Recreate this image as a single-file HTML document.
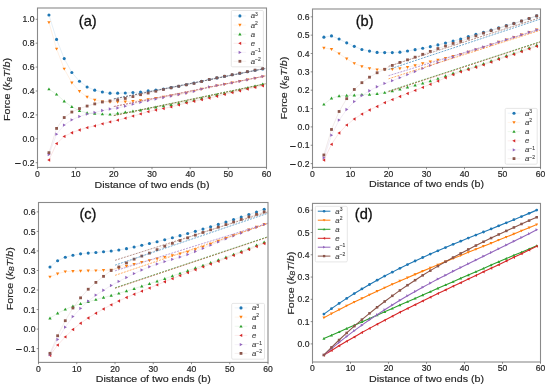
<!DOCTYPE html>
<html><head><meta charset="utf-8"><title>Force vs distance</title><style>html,body{margin:0;padding:0;background:#fff;width:550px;height:387px;overflow:hidden}svg{display:block;will-change:transform}</style></head><body>
<svg width="550" height="387" viewBox="0 0 550 387">
<style>text{font-family:"Liberation Sans", sans-serif;fill:#262626}.tk{font-size:8.6px;stroke:#262626;stroke-width:0.18px}.xl{font-size:9.5px;stroke:#262626;stroke-width:0.15px}.ttl{font-size:14.6px;fill:#111;stroke:#111;stroke-width:0.3px}.lg{font-size:7.8px;fill:#444;stroke:#444;stroke-width:0.12px}</style>
<rect width="550" height="387" fill="#ffffff"/>
<clipPath id="clipa"><rect x="37.5" y="8.0" width="229.0" height="159.4"/></clipPath>
<g clip-path="url(#clipa)">
<polyline points="48.95,15.00 56.58,39.38 64.22,58.62 71.85,72.48 79.48,81.32 87.12,86.94 94.75,90.16 102.38,91.96 110.02,93.15 117.65,93.15 125.28,93.03 132.92,92.55 140.55,91.96 148.18,90.88 155.82,90.04 163.45,88.93 171.08,87.65 178.72,86.29 186.35,84.79 193.98,83.10 201.62,81.28 209.25,79.53 216.88,77.89 224.52,76.30 232.15,74.75 239.78,73.23 247.42,71.75 255.05,70.30 262.68,68.89" fill="none" stroke="#1f77b4" stroke-width="0.45" stroke-opacity="0.27"/>
<polyline points="48.95,22.41 56.58,48.94 64.22,68.89 71.85,82.75 79.48,91.36 87.12,96.98 94.75,99.96 102.38,101.64 110.02,101.99 117.65,101.99 125.28,101.76 132.92,101.16 140.55,100.44 148.18,99.39 155.82,98.17 163.45,96.99 171.08,95.78 178.72,94.49 186.35,93.03 193.98,91.19 201.62,89.08 209.25,87.18 216.88,85.66 224.52,84.28 232.15,82.87 239.78,81.37 247.42,79.83 255.05,78.26 262.68,76.66" fill="none" stroke="#ff7f0e" stroke-width="0.45" stroke-opacity="0.27"/>
<polyline points="48.95,89.09 56.58,94.35 64.22,101.16 71.85,106.77 79.48,110.72 87.12,112.99 94.75,113.59 102.38,114.06 110.02,114.30 117.65,113.23 125.28,112.24 132.92,111.26 140.55,110.12 148.18,108.57 155.82,107.26 163.45,106.05 171.08,104.74 178.72,103.25 186.35,101.64 193.98,99.96 201.62,98.17 209.25,96.38 216.88,94.77 224.52,93.22 232.15,91.60 239.78,89.84 247.42,88.00 255.05,86.07 262.68,84.07" fill="none" stroke="#2ca02c" stroke-width="0.45" stroke-opacity="0.27"/>
<polyline points="48.95,159.95 56.58,143.58 64.22,136.41 71.85,132.71 79.48,129.96 87.12,127.69 94.75,125.89 102.38,123.86 110.02,121.95 117.65,120.16 125.28,118.19 132.92,116.10 140.55,113.94 148.18,111.67 155.82,109.97 163.45,108.49 171.08,106.89 178.72,104.93 186.35,102.95 193.98,101.28 201.62,99.68 209.25,98.05 216.88,96.26 224.52,94.38 232.15,92.55 239.78,90.80 247.42,89.08 255.05,87.39 262.68,85.74" fill="none" stroke="#d62728" stroke-width="0.45" stroke-opacity="0.27"/>
<polyline points="48.95,154.45 56.58,134.14 64.22,125.06 71.85,119.80 79.48,116.45 87.12,114.06 94.75,112.51 102.38,110.48 110.02,109.04 117.65,107.97 125.28,106.18 132.92,104.15 140.55,102.35 148.18,100.66 155.82,99.03 163.45,97.45 171.08,95.97 178.72,94.54 186.35,93.03 193.98,91.36 201.62,89.11 209.25,86.94 216.88,85.45 224.52,84.20 232.15,82.87 239.78,81.37 247.42,79.79 255.05,78.15 262.68,76.42" fill="none" stroke="#9467bd" stroke-width="0.45" stroke-opacity="0.27"/>
<polyline points="48.95,152.66 56.58,128.40 64.22,117.53 71.85,112.03 79.48,108.57 87.12,106.06 94.75,103.91 102.38,101.99 110.02,100.92 117.65,99.96 125.28,98.45 132.92,96.56 140.55,94.70 148.18,93.03 155.82,91.23 163.45,89.45 171.08,87.79 178.72,86.22 186.35,84.79 193.98,83.35 201.62,81.47 209.25,79.53 216.88,77.86 224.52,76.29 232.15,74.75 239.78,73.20 247.42,71.66 255.05,70.15 262.68,68.65" fill="none" stroke="#8c564b" stroke-width="0.45" stroke-opacity="0.27"/>
<circle cx="48.95" cy="15.00" r="1.55" fill="#1f77b4"/>
<circle cx="56.58" cy="39.38" r="1.55" fill="#1f77b4"/>
<circle cx="64.22" cy="58.62" r="1.55" fill="#1f77b4"/>
<circle cx="71.85" cy="72.48" r="1.55" fill="#1f77b4"/>
<circle cx="79.48" cy="81.32" r="1.55" fill="#1f77b4"/>
<circle cx="87.12" cy="86.94" r="1.55" fill="#1f77b4"/>
<circle cx="94.75" cy="90.16" r="1.55" fill="#1f77b4"/>
<circle cx="102.38" cy="91.96" r="1.55" fill="#1f77b4"/>
<circle cx="110.02" cy="93.15" r="1.55" fill="#1f77b4"/>
<circle cx="117.65" cy="93.15" r="1.55" fill="#1f77b4"/>
<circle cx="125.28" cy="93.03" r="1.55" fill="#1f77b4"/>
<circle cx="132.92" cy="92.55" r="1.55" fill="#1f77b4"/>
<circle cx="140.55" cy="91.96" r="1.55" fill="#1f77b4"/>
<circle cx="148.18" cy="90.88" r="1.55" fill="#1f77b4"/>
<circle cx="155.82" cy="90.04" r="1.55" fill="#1f77b4"/>
<circle cx="163.45" cy="88.93" r="1.55" fill="#1f77b4"/>
<circle cx="171.08" cy="87.65" r="1.55" fill="#1f77b4"/>
<circle cx="178.72" cy="86.29" r="1.55" fill="#1f77b4"/>
<circle cx="186.35" cy="84.79" r="1.55" fill="#1f77b4"/>
<circle cx="193.98" cy="83.10" r="1.55" fill="#1f77b4"/>
<circle cx="201.62" cy="81.28" r="1.55" fill="#1f77b4"/>
<circle cx="209.25" cy="79.53" r="1.55" fill="#1f77b4"/>
<circle cx="216.88" cy="77.89" r="1.55" fill="#1f77b4"/>
<circle cx="224.52" cy="76.30" r="1.55" fill="#1f77b4"/>
<circle cx="232.15" cy="74.75" r="1.55" fill="#1f77b4"/>
<circle cx="239.78" cy="73.23" r="1.55" fill="#1f77b4"/>
<circle cx="247.42" cy="71.75" r="1.55" fill="#1f77b4"/>
<circle cx="255.05" cy="70.30" r="1.55" fill="#1f77b4"/>
<circle cx="262.68" cy="68.89" r="1.55" fill="#1f77b4"/>
<polygon points="47.28,21.15 50.62,21.15 48.95,24.08" fill="#ff7f0e"/>
<polygon points="54.91,47.68 58.26,47.68 56.58,50.61" fill="#ff7f0e"/>
<polygon points="62.54,67.64 65.89,67.64 64.22,70.57" fill="#ff7f0e"/>
<polygon points="70.18,81.50 73.52,81.50 71.85,84.43" fill="#ff7f0e"/>
<polygon points="77.81,90.10 81.16,90.10 79.48,93.03" fill="#ff7f0e"/>
<polygon points="85.44,95.72 88.79,95.72 87.12,98.65" fill="#ff7f0e"/>
<polygon points="93.08,98.71 96.42,98.71 94.75,101.64" fill="#ff7f0e"/>
<polygon points="100.71,100.38 104.06,100.38 102.38,103.31" fill="#ff7f0e"/>
<polygon points="108.34,100.74 111.69,100.74 110.02,103.67" fill="#ff7f0e"/>
<polygon points="115.98,100.74 119.32,100.74 117.65,103.67" fill="#ff7f0e"/>
<polygon points="123.61,100.50 126.96,100.50 125.28,103.43" fill="#ff7f0e"/>
<polygon points="131.24,99.90 134.59,99.90 132.92,102.83" fill="#ff7f0e"/>
<polygon points="138.88,99.19 142.22,99.19 140.55,102.11" fill="#ff7f0e"/>
<polygon points="146.51,98.13 149.86,98.13 148.18,101.06" fill="#ff7f0e"/>
<polygon points="154.14,96.91 157.49,96.91 155.82,99.84" fill="#ff7f0e"/>
<polygon points="161.78,95.73 165.12,95.73 163.45,98.66" fill="#ff7f0e"/>
<polygon points="169.41,94.53 172.76,94.53 171.08,97.46" fill="#ff7f0e"/>
<polygon points="177.04,93.23 180.39,93.23 178.72,96.16" fill="#ff7f0e"/>
<polygon points="184.68,91.78 188.02,91.78 186.35,94.71" fill="#ff7f0e"/>
<polygon points="192.31,89.93 195.66,89.93 193.98,92.86" fill="#ff7f0e"/>
<polygon points="199.94,87.83 203.29,87.83 201.62,90.76" fill="#ff7f0e"/>
<polygon points="207.58,85.92 210.92,85.92 209.25,88.85" fill="#ff7f0e"/>
<polygon points="215.21,84.40 218.56,84.40 216.88,87.33" fill="#ff7f0e"/>
<polygon points="222.84,83.03 226.19,83.03 224.52,85.96" fill="#ff7f0e"/>
<polygon points="230.48,81.62 233.82,81.62 232.15,84.55" fill="#ff7f0e"/>
<polygon points="238.11,80.11 241.46,80.11 239.78,83.04" fill="#ff7f0e"/>
<polygon points="245.74,78.58 249.09,78.58 247.42,81.51" fill="#ff7f0e"/>
<polygon points="253.38,77.01 256.72,77.01 255.05,79.94" fill="#ff7f0e"/>
<polygon points="261.01,75.40 264.36,75.40 262.68,78.33" fill="#ff7f0e"/>
<polygon points="47.28,90.34 50.62,90.34 48.95,87.41" fill="#2ca02c"/>
<polygon points="54.91,95.60 58.26,95.60 56.58,92.67" fill="#2ca02c"/>
<polygon points="62.54,102.41 65.89,102.41 64.22,99.48" fill="#2ca02c"/>
<polygon points="70.18,108.03 73.52,108.03 71.85,105.10" fill="#2ca02c"/>
<polygon points="77.81,111.97 81.16,111.97 79.48,109.04" fill="#2ca02c"/>
<polygon points="85.44,114.24 88.79,114.24 87.12,111.31" fill="#2ca02c"/>
<polygon points="93.08,114.84 96.42,114.84 94.75,111.91" fill="#2ca02c"/>
<polygon points="100.71,115.32 104.06,115.32 102.38,112.39" fill="#2ca02c"/>
<polygon points="108.34,115.56 111.69,115.56 110.02,112.63" fill="#2ca02c"/>
<polygon points="115.98,114.48 119.32,114.48 117.65,111.55" fill="#2ca02c"/>
<polygon points="123.61,113.49 126.96,113.49 125.28,110.56" fill="#2ca02c"/>
<polygon points="131.24,112.52 134.59,112.52 132.92,109.59" fill="#2ca02c"/>
<polygon points="138.88,111.38 142.22,111.38 140.55,108.45" fill="#2ca02c"/>
<polygon points="146.51,109.82 149.86,109.82 148.18,106.89" fill="#2ca02c"/>
<polygon points="154.14,108.51 157.49,108.51 155.82,105.58" fill="#2ca02c"/>
<polygon points="161.78,107.30 165.12,107.30 163.45,104.37" fill="#2ca02c"/>
<polygon points="169.41,106.00 172.76,106.00 171.08,103.07" fill="#2ca02c"/>
<polygon points="177.04,104.51 180.39,104.51 178.72,101.58" fill="#2ca02c"/>
<polygon points="184.68,102.90 188.02,102.90 186.35,99.97" fill="#2ca02c"/>
<polygon points="192.31,101.22 195.66,101.22 193.98,98.29" fill="#2ca02c"/>
<polygon points="199.94,99.43 203.29,99.43 201.62,96.50" fill="#2ca02c"/>
<polygon points="207.58,97.63 210.92,97.63 209.25,94.70" fill="#2ca02c"/>
<polygon points="215.21,96.02 218.56,96.02 216.88,93.09" fill="#2ca02c"/>
<polygon points="222.84,94.48 226.19,94.48 224.52,91.55" fill="#2ca02c"/>
<polygon points="230.48,92.85 233.82,92.85 232.15,89.92" fill="#2ca02c"/>
<polygon points="238.11,91.09 241.46,91.09 239.78,88.16" fill="#2ca02c"/>
<polygon points="245.74,89.25 249.09,89.25 247.42,86.32" fill="#2ca02c"/>
<polygon points="253.38,87.33 256.72,87.33 255.05,84.40" fill="#2ca02c"/>
<polygon points="261.01,85.32 264.36,85.32 262.68,82.40" fill="#2ca02c"/>
<polygon points="50.21,158.28 50.21,161.63 47.28,159.95" fill="#d62728"/>
<polygon points="57.84,141.91 57.84,145.25 54.91,143.58" fill="#d62728"/>
<polygon points="65.47,134.74 65.47,138.08 62.54,136.41" fill="#d62728"/>
<polygon points="73.11,131.03 73.11,134.38 70.18,132.71" fill="#d62728"/>
<polygon points="80.74,128.28 80.74,131.63 77.81,129.96" fill="#d62728"/>
<polygon points="88.37,126.01 88.37,129.36 85.44,127.69" fill="#d62728"/>
<polygon points="96.01,124.22 96.01,127.57 93.08,125.89" fill="#d62728"/>
<polygon points="103.64,122.19 103.64,125.54 100.71,123.86" fill="#d62728"/>
<polygon points="111.27,120.28 111.27,123.62 108.34,121.95" fill="#d62728"/>
<polygon points="118.91,118.48 118.91,121.83 115.98,120.16" fill="#d62728"/>
<polygon points="126.54,116.51 126.54,119.86 123.61,118.19" fill="#d62728"/>
<polygon points="134.17,114.43 134.17,117.78 131.24,116.10" fill="#d62728"/>
<polygon points="141.81,112.27 141.81,115.62 138.88,113.94" fill="#d62728"/>
<polygon points="149.44,110.00 149.44,113.35 146.51,111.67" fill="#d62728"/>
<polygon points="157.07,108.30 157.07,111.65 154.14,109.97" fill="#d62728"/>
<polygon points="164.71,106.82 164.71,110.17 161.78,108.49" fill="#d62728"/>
<polygon points="172.34,105.22 172.34,108.57 169.41,106.89" fill="#d62728"/>
<polygon points="179.97,103.25 179.97,106.60 177.04,104.93" fill="#d62728"/>
<polygon points="187.61,101.28 187.61,104.62 184.68,102.95" fill="#d62728"/>
<polygon points="195.24,99.60 195.24,102.95 192.31,101.28" fill="#d62728"/>
<polygon points="202.87,98.01 202.87,101.35 199.94,99.68" fill="#d62728"/>
<polygon points="210.51,96.38 210.51,99.72 207.58,98.05" fill="#d62728"/>
<polygon points="218.14,94.58 218.14,97.93 215.21,96.26" fill="#d62728"/>
<polygon points="225.77,92.71 225.77,96.06 222.84,94.38" fill="#d62728"/>
<polygon points="233.41,90.88 233.41,94.23 230.48,92.55" fill="#d62728"/>
<polygon points="241.04,89.13 241.04,92.47 238.11,90.80" fill="#d62728"/>
<polygon points="248.67,87.40 248.67,90.75 245.74,89.08" fill="#d62728"/>
<polygon points="256.31,85.72 256.31,89.06 253.38,87.39" fill="#d62728"/>
<polygon points="263.94,84.07 263.94,87.42 261.01,85.74" fill="#d62728"/>
<polygon points="47.69,152.78 47.69,156.13 50.62,154.45" fill="#9467bd"/>
<polygon points="55.33,132.47 55.33,135.81 58.26,134.14" fill="#9467bd"/>
<polygon points="62.96,123.38 62.96,126.73 65.89,125.06" fill="#9467bd"/>
<polygon points="70.59,118.13 70.59,121.47 73.52,119.80" fill="#9467bd"/>
<polygon points="78.23,114.78 78.23,118.13 81.16,116.45" fill="#9467bd"/>
<polygon points="85.86,112.39 85.86,115.74 88.79,114.06" fill="#9467bd"/>
<polygon points="93.49,110.84 93.49,114.18 96.42,112.51" fill="#9467bd"/>
<polygon points="101.13,108.80 101.13,112.15 104.06,110.48" fill="#9467bd"/>
<polygon points="108.76,107.37 108.76,110.72 111.69,109.04" fill="#9467bd"/>
<polygon points="116.39,106.30 116.39,109.64 119.32,107.97" fill="#9467bd"/>
<polygon points="124.03,104.51 124.03,107.86 126.96,106.18" fill="#9467bd"/>
<polygon points="131.66,102.47 131.66,105.82 134.59,104.15" fill="#9467bd"/>
<polygon points="139.29,100.68 139.29,104.03 142.22,102.35" fill="#9467bd"/>
<polygon points="146.93,98.99 146.93,102.34 149.86,100.66" fill="#9467bd"/>
<polygon points="154.56,97.36 154.56,100.70 157.49,99.03" fill="#9467bd"/>
<polygon points="162.19,95.78 162.19,99.13 165.12,97.45" fill="#9467bd"/>
<polygon points="169.83,94.30 169.83,97.64 172.76,95.97" fill="#9467bd"/>
<polygon points="177.46,92.86 177.46,96.21 180.39,94.54" fill="#9467bd"/>
<polygon points="185.09,91.36 185.09,94.71 188.02,93.03" fill="#9467bd"/>
<polygon points="192.73,89.68 192.73,93.03 195.66,91.36" fill="#9467bd"/>
<polygon points="200.36,87.43 200.36,90.78 203.29,89.11" fill="#9467bd"/>
<polygon points="207.99,85.26 207.99,88.61 210.92,86.94" fill="#9467bd"/>
<polygon points="215.63,83.78 215.63,87.12 218.56,85.45" fill="#9467bd"/>
<polygon points="223.26,82.53 223.26,85.87 226.19,84.20" fill="#9467bd"/>
<polygon points="230.89,81.20 230.89,84.55 233.82,82.87" fill="#9467bd"/>
<polygon points="238.53,79.70 238.53,83.05 241.46,81.37" fill="#9467bd"/>
<polygon points="246.16,78.12 246.16,81.47 249.09,79.79" fill="#9467bd"/>
<polygon points="253.79,76.47 253.79,79.82 256.72,78.15" fill="#9467bd"/>
<polygon points="261.43,74.75 261.43,78.10 264.36,76.42" fill="#9467bd"/>
<rect x="47.55" y="151.27" width="2.79" height="2.79" fill="#8c564b"/>
<rect x="55.19" y="127.01" width="2.79" height="2.79" fill="#8c564b"/>
<rect x="62.82" y="116.13" width="2.79" height="2.79" fill="#8c564b"/>
<rect x="70.45" y="110.64" width="2.79" height="2.79" fill="#8c564b"/>
<rect x="78.09" y="107.17" width="2.79" height="2.79" fill="#8c564b"/>
<rect x="85.72" y="104.66" width="2.79" height="2.79" fill="#8c564b"/>
<rect x="93.36" y="102.51" width="2.79" height="2.79" fill="#8c564b"/>
<rect x="100.99" y="100.60" width="2.79" height="2.79" fill="#8c564b"/>
<rect x="108.62" y="99.52" width="2.79" height="2.79" fill="#8c564b"/>
<rect x="116.26" y="98.57" width="2.79" height="2.79" fill="#8c564b"/>
<rect x="123.89" y="97.06" width="2.79" height="2.79" fill="#8c564b"/>
<rect x="131.52" y="95.17" width="2.79" height="2.79" fill="#8c564b"/>
<rect x="139.16" y="93.31" width="2.79" height="2.79" fill="#8c564b"/>
<rect x="146.79" y="91.64" width="2.79" height="2.79" fill="#8c564b"/>
<rect x="154.42" y="89.84" width="2.79" height="2.79" fill="#8c564b"/>
<rect x="162.05" y="88.05" width="2.79" height="2.79" fill="#8c564b"/>
<rect x="169.69" y="86.39" width="2.79" height="2.79" fill="#8c564b"/>
<rect x="177.32" y="84.83" width="2.79" height="2.79" fill="#8c564b"/>
<rect x="184.95" y="83.39" width="2.79" height="2.79" fill="#8c564b"/>
<rect x="192.59" y="81.96" width="2.79" height="2.79" fill="#8c564b"/>
<rect x="200.22" y="80.08" width="2.79" height="2.79" fill="#8c564b"/>
<rect x="207.85" y="78.13" width="2.79" height="2.79" fill="#8c564b"/>
<rect x="215.49" y="76.46" width="2.79" height="2.79" fill="#8c564b"/>
<rect x="223.12" y="74.90" width="2.79" height="2.79" fill="#8c564b"/>
<rect x="230.75" y="73.35" width="2.79" height="2.79" fill="#8c564b"/>
<rect x="238.39" y="71.80" width="2.79" height="2.79" fill="#8c564b"/>
<rect x="246.02" y="70.27" width="2.79" height="2.79" fill="#8c564b"/>
<rect x="253.66" y="68.75" width="2.79" height="2.79" fill="#8c564b"/>
<rect x="261.29" y="67.26" width="2.79" height="2.79" fill="#8c564b"/>
<line x1="113.83" y1="98.77" x2="266.50" y2="68.30" stroke="#1f77b4" stroke-width="0.7" stroke-dasharray="2,1.1" stroke-opacity="0.9"/>
<line x1="113.83" y1="99.01" x2="266.50" y2="68.18" stroke="#8c564b" stroke-width="0.7" stroke-dasharray="2,1.1" stroke-opacity="0.9"/>
<line x1="113.83" y1="106.54" x2="266.50" y2="75.70" stroke="#ff7f0e" stroke-width="0.7" stroke-dasharray="2,1.1" stroke-opacity="0.9"/>
<line x1="113.83" y1="106.54" x2="266.50" y2="75.70" stroke="#9467bd" stroke-width="0.7" stroke-dasharray="2,1.1" stroke-opacity="0.9"/>
<line x1="113.83" y1="115.62" x2="266.50" y2="83.71" stroke="#d62728" stroke-width="0.7" stroke-dasharray="2,1.1" stroke-opacity="0.9"/>
<line x1="113.83" y1="115.38" x2="266.50" y2="83.47" stroke="#2ca02c" stroke-width="0.7" stroke-dasharray="2,1.1" stroke-opacity="0.9"/>
</g>
<rect x="37.5" y="8.0" width="229.0" height="159.4" fill="none" stroke="#8a8a8a" stroke-width="1.1"/>
<line x1="37.50" y1="167.4" x2="37.50" y2="169.20" stroke="#606060" stroke-width="0.7"/>
<text x="37.50" y="176.60" text-anchor="middle" class="tk">0</text>
<line x1="75.67" y1="167.4" x2="75.67" y2="169.20" stroke="#606060" stroke-width="0.7"/>
<text x="75.67" y="176.60" text-anchor="middle" class="tk">10</text>
<line x1="113.83" y1="167.4" x2="113.83" y2="169.20" stroke="#606060" stroke-width="0.7"/>
<text x="113.83" y="176.60" text-anchor="middle" class="tk">20</text>
<line x1="152.00" y1="167.4" x2="152.00" y2="169.20" stroke="#606060" stroke-width="0.7"/>
<text x="152.00" y="176.60" text-anchor="middle" class="tk">30</text>
<line x1="190.17" y1="167.4" x2="190.17" y2="169.20" stroke="#606060" stroke-width="0.7"/>
<text x="190.17" y="176.60" text-anchor="middle" class="tk">40</text>
<line x1="228.33" y1="167.4" x2="228.33" y2="169.20" stroke="#606060" stroke-width="0.7"/>
<text x="228.33" y="176.60" text-anchor="middle" class="tk">50</text>
<line x1="266.50" y1="167.4" x2="266.50" y2="169.20" stroke="#606060" stroke-width="0.7"/>
<text x="266.50" y="176.60" text-anchor="middle" class="tk">60</text>
<line x1="35.70" y1="162.70" x2="37.5" y2="162.70" stroke="#606060" stroke-width="0.7"/>
<rect x="15.10" y="163.00" width="5.6" height="1" fill="#262626"/>
<text x="34.50" y="165.80" text-anchor="end" class="tk">0.2</text>
<line x1="35.70" y1="138.80" x2="37.5" y2="138.80" stroke="#606060" stroke-width="0.7"/>
<text x="34.50" y="141.90" text-anchor="end" class="tk">0.0</text>
<line x1="35.70" y1="114.90" x2="37.5" y2="114.90" stroke="#606060" stroke-width="0.7"/>
<text x="34.50" y="118.00" text-anchor="end" class="tk">0.2</text>
<line x1="35.70" y1="91.00" x2="37.5" y2="91.00" stroke="#606060" stroke-width="0.7"/>
<text x="34.50" y="94.10" text-anchor="end" class="tk">0.4</text>
<line x1="35.70" y1="67.10" x2="37.5" y2="67.10" stroke="#606060" stroke-width="0.7"/>
<text x="34.50" y="70.20" text-anchor="end" class="tk">0.6</text>
<line x1="35.70" y1="43.20" x2="37.5" y2="43.20" stroke="#606060" stroke-width="0.7"/>
<text x="34.50" y="46.30" text-anchor="end" class="tk">0.8</text>
<line x1="35.70" y1="19.30" x2="37.5" y2="19.30" stroke="#606060" stroke-width="0.7"/>
<text x="34.50" y="22.40" text-anchor="end" class="tk">1.0</text>
<text x="152" y="187.5" text-anchor="middle" class="xl" textLength="115" lengthAdjust="spacingAndGlyphs">Distance of two ends (b)</text>
<text transform="translate(10.1,89.5) rotate(-90)" text-anchor="middle" class="xl" textLength="63" lengthAdjust="spacingAndGlyphs">Force (<tspan font-style="italic">k</tspan><tspan font-style="italic" font-size="6.3" dy="1.8">B</tspan><tspan dy="-1.8" font-style="italic">T</tspan>/<tspan font-style="italic">b</tspan>)</text>
<text x="78.8" y="25.5" class="ttl">(a)</text>
<rect x="231.3" y="10.5" width="32.1" height="56.3" rx="1.2" fill="#ffffff" fill-opacity="0.85" stroke="#e0e0e0" stroke-width="0.8"/>
<line x1="233.60" y1="15.9" x2="246.20" y2="15.9" stroke="#1f77b4" stroke-width="0.45" stroke-opacity="0.2"/>
<circle cx="239.90" cy="15.90" r="1.55" fill="#1f77b4"/>
<text x="250.70" y="18.30" class="lg"><tspan font-style="italic">a</tspan><tspan font-size="5.0" dy="-2.4">3</tspan></text>
<line x1="233.60" y1="25.1" x2="246.20" y2="25.1" stroke="#ff7f0e" stroke-width="0.45" stroke-opacity="0.2"/>
<polygon points="238.23,23.84 241.57,23.84 239.90,26.77" fill="#ff7f0e"/>
<text x="250.70" y="27.50" class="lg"><tspan font-style="italic">a</tspan><tspan font-size="5.0" dy="-2.4">2</tspan></text>
<line x1="233.60" y1="34.2" x2="246.20" y2="34.2" stroke="#2ca02c" stroke-width="0.45" stroke-opacity="0.2"/>
<polygon points="238.23,35.46 241.57,35.46 239.90,32.53" fill="#2ca02c"/>
<text x="250.70" y="36.60" class="lg"><tspan font-style="italic">a</tspan></text>
<line x1="233.60" y1="43.3" x2="246.20" y2="43.3" stroke="#d62728" stroke-width="0.45" stroke-opacity="0.2"/>
<polygon points="241.16,41.63 241.16,44.97 238.23,43.30" fill="#d62728"/>
<text x="250.70" y="45.70" class="lg"><tspan font-style="italic">e</tspan></text>
<line x1="233.60" y1="52.4" x2="246.20" y2="52.4" stroke="#9467bd" stroke-width="0.45" stroke-opacity="0.2"/>
<polygon points="238.64,50.73 238.64,54.07 241.57,52.40" fill="#9467bd"/>
<text x="250.70" y="54.80" class="lg"><tspan font-style="italic">a</tspan><tspan font-size="5.0" dy="-2.4">−1</tspan></text>
<line x1="233.60" y1="61.3" x2="246.20" y2="61.3" stroke="#8c564b" stroke-width="0.45" stroke-opacity="0.2"/>
<rect x="238.50" y="59.90" width="2.79" height="2.79" fill="#8c564b"/>
<text x="250.70" y="63.70" class="lg"><tspan font-style="italic">a</tspan><tspan font-size="5.0" dy="-2.4">−2</tspan></text>
<clipPath id="clipb"><rect x="312.5" y="9.0" width="228.0" height="158.4"/></clipPath>
<g clip-path="url(#clipb)">
<polyline points="323.90,37.17 331.50,35.88 339.10,39.00 346.70,42.86 354.30,46.34 361.90,49.46 369.50,51.11 377.10,52.40 384.70,52.58 392.30,52.58 399.90,52.15 407.50,51.06 415.10,49.63 422.70,48.18 430.30,46.66 437.90,44.91 445.50,43.04 453.10,41.02 460.70,39.00 468.30,36.62 475.90,34.42 483.50,32.40 491.10,30.13 498.70,27.81 506.30,25.63 513.90,23.41 521.50,20.98 529.10,18.45 536.70,15.88" fill="none" stroke="#1f77b4" stroke-width="0.45" stroke-opacity="0.27"/>
<polyline points="323.90,48.00 331.50,49.28 339.10,53.68 346.70,58.82 354.30,63.41 361.90,66.53 369.50,68.55 377.10,69.65 384.70,69.46 392.30,69.28 399.90,68.59 407.50,67.25 415.10,65.49 422.70,63.58 430.30,61.76 437.90,60.01 445.50,58.16 453.10,56.22 460.70,54.17 468.30,52.03 475.90,49.72 483.50,47.22 491.10,44.65 498.70,42.12 506.30,39.66 513.90,37.19 521.50,34.73 529.10,32.28 536.70,29.83" fill="none" stroke="#ff7f0e" stroke-width="0.45" stroke-opacity="0.27"/>
<polyline points="323.90,104.33 331.50,98.27 339.10,95.89 346.70,95.52 354.30,95.15 361.90,94.79 369.50,94.42 377.10,93.69 384.70,92.59 392.30,90.93 399.90,89.13 407.50,87.25 415.10,85.28 422.70,83.21 430.30,81.03 437.90,78.59 445.50,75.93 453.10,73.25 460.70,70.75 468.30,68.55 475.90,66.23 483.50,63.78 491.10,61.04 498.70,58.27 506.30,55.79 513.90,53.32 521.50,50.57 529.10,47.81 536.70,45.24" fill="none" stroke="#2ca02c" stroke-width="0.45" stroke-opacity="0.27"/>
<polyline points="323.90,160.11 331.50,144.33 339.10,132.96 346.70,125.07 354.30,119.01 361.90,114.06 369.50,110.02 377.10,106.53 384.70,102.68 392.30,99.56 399.90,96.49 407.50,93.45 415.10,90.43 422.70,87.39 430.30,84.33 437.90,81.11 445.50,77.79 453.10,74.63 460.70,71.85 468.30,69.65 475.90,67.33 483.50,64.88 491.10,62.14 498.70,59.37 506.30,56.89 513.90,54.42 521.50,51.67 529.10,48.91 536.70,46.34" fill="none" stroke="#d62728" stroke-width="0.45" stroke-opacity="0.27"/>
<polyline points="323.90,157.73 331.50,135.16 339.10,120.11 346.70,109.47 354.30,101.58 361.90,95.52 369.50,90.75 377.10,86.71 384.70,83.41 392.30,80.66 399.90,77.70 407.50,74.61 415.10,71.47 422.70,68.38 430.30,65.43 437.90,62.62 445.50,59.89 453.10,57.23 460.70,54.61 468.30,52.03 475.90,49.50 483.50,47.03 491.10,44.58 498.70,42.12 506.30,39.66 513.90,37.19 521.50,34.73 529.10,32.28 536.70,29.83" fill="none" stroke="#9467bd" stroke-width="0.45" stroke-opacity="0.27"/>
<polyline points="323.90,154.98 331.50,129.47 339.10,111.49 346.70,98.64 354.30,89.47 361.90,82.68 369.50,77.17 377.10,72.77 384.70,69.28 392.30,65.43 399.90,62.44 407.50,59.83 415.10,57.17 422.70,54.28 430.30,51.35 437.90,48.55 445.50,45.98 453.10,43.41 460.70,41.39 468.30,38.27 475.90,35.88 483.50,33.13 491.10,30.70 498.70,28.36 506.30,26.00 513.90,23.59 521.50,21.04 529.10,18.45 536.70,15.88" fill="none" stroke="#8c564b" stroke-width="0.45" stroke-opacity="0.27"/>
<circle cx="323.90" cy="37.17" r="1.55" fill="#1f77b4"/>
<circle cx="331.50" cy="35.88" r="1.55" fill="#1f77b4"/>
<circle cx="339.10" cy="39.00" r="1.55" fill="#1f77b4"/>
<circle cx="346.70" cy="42.86" r="1.55" fill="#1f77b4"/>
<circle cx="354.30" cy="46.34" r="1.55" fill="#1f77b4"/>
<circle cx="361.90" cy="49.46" r="1.55" fill="#1f77b4"/>
<circle cx="369.50" cy="51.11" r="1.55" fill="#1f77b4"/>
<circle cx="377.10" cy="52.40" r="1.55" fill="#1f77b4"/>
<circle cx="384.70" cy="52.58" r="1.55" fill="#1f77b4"/>
<circle cx="392.30" cy="52.58" r="1.55" fill="#1f77b4"/>
<circle cx="399.90" cy="52.15" r="1.55" fill="#1f77b4"/>
<circle cx="407.50" cy="51.06" r="1.55" fill="#1f77b4"/>
<circle cx="415.10" cy="49.63" r="1.55" fill="#1f77b4"/>
<circle cx="422.70" cy="48.18" r="1.55" fill="#1f77b4"/>
<circle cx="430.30" cy="46.66" r="1.55" fill="#1f77b4"/>
<circle cx="437.90" cy="44.91" r="1.55" fill="#1f77b4"/>
<circle cx="445.50" cy="43.04" r="1.55" fill="#1f77b4"/>
<circle cx="453.10" cy="41.02" r="1.55" fill="#1f77b4"/>
<circle cx="460.70" cy="39.00" r="1.55" fill="#1f77b4"/>
<circle cx="468.30" cy="36.62" r="1.55" fill="#1f77b4"/>
<circle cx="475.90" cy="34.42" r="1.55" fill="#1f77b4"/>
<circle cx="483.50" cy="32.40" r="1.55" fill="#1f77b4"/>
<circle cx="491.10" cy="30.13" r="1.55" fill="#1f77b4"/>
<circle cx="498.70" cy="27.81" r="1.55" fill="#1f77b4"/>
<circle cx="506.30" cy="25.63" r="1.55" fill="#1f77b4"/>
<circle cx="513.90" cy="23.41" r="1.55" fill="#1f77b4"/>
<circle cx="521.50" cy="20.98" r="1.55" fill="#1f77b4"/>
<circle cx="529.10" cy="18.45" r="1.55" fill="#1f77b4"/>
<circle cx="536.70" cy="15.88" r="1.55" fill="#1f77b4"/>
<polygon points="322.23,46.74 325.57,46.74 323.90,49.67" fill="#ff7f0e"/>
<polygon points="329.83,48.02 333.17,48.02 331.50,50.95" fill="#ff7f0e"/>
<polygon points="337.43,52.43 340.77,52.43 339.10,55.36" fill="#ff7f0e"/>
<polygon points="345.03,57.57 348.37,57.57 346.70,60.50" fill="#ff7f0e"/>
<polygon points="352.63,62.15 355.97,62.15 354.30,65.08" fill="#ff7f0e"/>
<polygon points="360.23,65.27 363.57,65.27 361.90,68.20" fill="#ff7f0e"/>
<polygon points="367.83,67.29 371.17,67.29 369.50,70.22" fill="#ff7f0e"/>
<polygon points="375.43,68.39 378.77,68.39 377.10,71.32" fill="#ff7f0e"/>
<polygon points="383.03,68.21 386.37,68.21 384.70,71.14" fill="#ff7f0e"/>
<polygon points="390.63,68.03 393.97,68.03 392.30,70.96" fill="#ff7f0e"/>
<polygon points="398.23,67.34 401.57,67.34 399.90,70.27" fill="#ff7f0e"/>
<polygon points="405.83,65.99 409.17,65.99 407.50,68.92" fill="#ff7f0e"/>
<polygon points="413.43,64.24 416.77,64.24 415.10,67.17" fill="#ff7f0e"/>
<polygon points="421.03,62.33 424.37,62.33 422.70,65.26" fill="#ff7f0e"/>
<polygon points="428.63,60.50 431.97,60.50 430.30,63.43" fill="#ff7f0e"/>
<polygon points="436.23,58.75 439.57,58.75 437.90,61.68" fill="#ff7f0e"/>
<polygon points="443.83,56.91 447.17,56.91 445.50,59.84" fill="#ff7f0e"/>
<polygon points="451.43,54.96 454.77,54.96 453.10,57.89" fill="#ff7f0e"/>
<polygon points="459.03,52.92 462.37,52.92 460.70,55.85" fill="#ff7f0e"/>
<polygon points="466.63,50.78 469.97,50.78 468.30,53.71" fill="#ff7f0e"/>
<polygon points="474.23,48.46 477.57,48.46 475.90,51.39" fill="#ff7f0e"/>
<polygon points="481.83,45.96 485.17,45.96 483.50,48.89" fill="#ff7f0e"/>
<polygon points="489.43,43.39 492.77,43.39 491.10,46.32" fill="#ff7f0e"/>
<polygon points="497.03,40.87 500.37,40.87 498.70,43.80" fill="#ff7f0e"/>
<polygon points="504.63,38.40 507.97,38.40 506.30,41.33" fill="#ff7f0e"/>
<polygon points="512.23,35.94 515.57,35.94 513.90,38.87" fill="#ff7f0e"/>
<polygon points="519.83,33.48 523.17,33.48 521.50,36.41" fill="#ff7f0e"/>
<polygon points="527.43,31.02 530.77,31.02 529.10,33.95" fill="#ff7f0e"/>
<polygon points="535.03,28.57 538.37,28.57 536.70,31.50" fill="#ff7f0e"/>
<polygon points="322.23,105.59 325.57,105.59 323.90,102.66" fill="#2ca02c"/>
<polygon points="329.83,99.53 333.17,99.53 331.50,96.60" fill="#2ca02c"/>
<polygon points="337.43,97.14 340.77,97.14 339.10,94.21" fill="#2ca02c"/>
<polygon points="345.03,96.78 348.37,96.78 346.70,93.85" fill="#2ca02c"/>
<polygon points="352.63,96.41 355.97,96.41 354.30,93.48" fill="#2ca02c"/>
<polygon points="360.23,96.04 363.57,96.04 361.90,93.11" fill="#2ca02c"/>
<polygon points="367.83,95.68 371.17,95.68 369.50,92.75" fill="#2ca02c"/>
<polygon points="375.43,94.94 378.77,94.94 377.10,92.01" fill="#2ca02c"/>
<polygon points="383.03,93.84 386.37,93.84 384.70,90.91" fill="#2ca02c"/>
<polygon points="390.63,92.19 393.97,92.19 392.30,89.26" fill="#2ca02c"/>
<polygon points="398.23,90.39 401.57,90.39 399.90,87.46" fill="#2ca02c"/>
<polygon points="405.83,88.51 409.17,88.51 407.50,85.58" fill="#2ca02c"/>
<polygon points="413.43,86.54 416.77,86.54 415.10,83.61" fill="#2ca02c"/>
<polygon points="421.03,84.47 424.37,84.47 422.70,81.54" fill="#2ca02c"/>
<polygon points="428.63,82.28 431.97,82.28 430.30,79.35" fill="#2ca02c"/>
<polygon points="436.23,79.85 439.57,79.85 437.90,76.92" fill="#2ca02c"/>
<polygon points="443.83,77.19 447.17,77.19 445.50,74.26" fill="#2ca02c"/>
<polygon points="451.43,74.50 454.77,74.50 453.10,71.57" fill="#2ca02c"/>
<polygon points="459.03,72.00 462.37,72.00 460.70,69.08" fill="#2ca02c"/>
<polygon points="466.63,69.80 469.97,69.80 468.30,66.87" fill="#2ca02c"/>
<polygon points="474.23,67.49 477.57,67.49 475.90,64.56" fill="#2ca02c"/>
<polygon points="481.83,65.03 485.17,65.03 483.50,62.10" fill="#2ca02c"/>
<polygon points="489.43,62.29 492.77,62.29 491.10,59.36" fill="#2ca02c"/>
<polygon points="497.03,59.53 500.37,59.53 498.70,56.60" fill="#2ca02c"/>
<polygon points="504.63,57.05 507.97,57.05 506.30,54.12" fill="#2ca02c"/>
<polygon points="512.23,54.57 515.57,54.57 513.90,51.64" fill="#2ca02c"/>
<polygon points="519.83,51.83 523.17,51.83 521.50,48.90" fill="#2ca02c"/>
<polygon points="527.43,49.07 530.77,49.07 529.10,46.14" fill="#2ca02c"/>
<polygon points="535.03,46.50 538.37,46.50 536.70,43.57" fill="#2ca02c"/>
<polygon points="325.16,158.44 325.16,161.79 322.23,160.11" fill="#d62728"/>
<polygon points="332.76,142.66 332.76,146.01 329.83,144.33" fill="#d62728"/>
<polygon points="340.36,131.28 340.36,134.63 337.43,132.96" fill="#d62728"/>
<polygon points="347.96,123.39 347.96,126.74 345.03,125.07" fill="#d62728"/>
<polygon points="355.56,117.34 355.56,120.68 352.63,119.01" fill="#d62728"/>
<polygon points="363.16,112.38 363.16,115.73 360.23,114.06" fill="#d62728"/>
<polygon points="370.76,108.34 370.76,111.69 367.83,110.02" fill="#d62728"/>
<polygon points="378.36,104.86 378.36,108.21 375.43,106.53" fill="#d62728"/>
<polygon points="385.96,101.00 385.96,104.35 383.03,102.68" fill="#d62728"/>
<polygon points="393.56,97.88 393.56,101.23 390.63,99.56" fill="#d62728"/>
<polygon points="401.16,94.82 401.16,98.16 398.23,96.49" fill="#d62728"/>
<polygon points="408.76,91.78 408.76,95.13 405.83,93.45" fill="#d62728"/>
<polygon points="416.36,88.75 416.36,92.10 413.43,90.43" fill="#d62728"/>
<polygon points="423.96,85.72 423.96,89.07 421.03,87.39" fill="#d62728"/>
<polygon points="431.56,82.65 431.56,86.00 428.63,84.33" fill="#d62728"/>
<polygon points="439.16,79.44 439.16,82.79 436.23,81.11" fill="#d62728"/>
<polygon points="446.76,76.12 446.76,79.47 443.83,77.79" fill="#d62728"/>
<polygon points="454.36,72.95 454.36,76.30 451.43,74.63" fill="#d62728"/>
<polygon points="461.96,70.18 461.96,73.52 459.03,71.85" fill="#d62728"/>
<polygon points="469.56,67.97 469.56,71.32 466.63,69.65" fill="#d62728"/>
<polygon points="477.16,65.66 477.16,69.01 474.23,67.33" fill="#d62728"/>
<polygon points="484.76,63.20 484.76,66.55 481.83,64.88" fill="#d62728"/>
<polygon points="492.36,60.46 492.36,63.81 489.43,62.14" fill="#d62728"/>
<polygon points="499.96,57.70 499.96,61.05 497.03,59.37" fill="#d62728"/>
<polygon points="507.56,55.22 507.56,58.57 504.63,56.89" fill="#d62728"/>
<polygon points="515.16,52.74 515.16,56.09 512.23,54.42" fill="#d62728"/>
<polygon points="522.76,50.00 522.76,53.35 519.83,51.67" fill="#d62728"/>
<polygon points="530.36,47.24 530.36,50.59 527.43,48.91" fill="#d62728"/>
<polygon points="537.96,44.67 537.96,48.02 535.03,46.34" fill="#d62728"/>
<polygon points="322.64,156.05 322.64,159.40 325.57,157.73" fill="#9467bd"/>
<polygon points="330.24,133.48 330.24,136.83 333.17,135.16" fill="#9467bd"/>
<polygon points="337.84,118.44 337.84,121.78 340.77,120.11" fill="#9467bd"/>
<polygon points="345.44,107.79 345.44,111.14 348.37,109.47" fill="#9467bd"/>
<polygon points="353.04,99.90 353.04,103.25 355.97,101.58" fill="#9467bd"/>
<polygon points="360.64,93.85 360.64,97.20 363.57,95.52" fill="#9467bd"/>
<polygon points="368.24,89.08 368.24,92.42 371.17,90.75" fill="#9467bd"/>
<polygon points="375.84,85.04 375.84,88.39 378.77,86.71" fill="#9467bd"/>
<polygon points="383.44,81.74 383.44,85.08 386.37,83.41" fill="#9467bd"/>
<polygon points="391.04,78.98 391.04,82.33 393.97,80.66" fill="#9467bd"/>
<polygon points="398.64,76.03 398.64,79.37 401.57,77.70" fill="#9467bd"/>
<polygon points="406.24,72.93 406.24,76.28 409.17,74.61" fill="#9467bd"/>
<polygon points="413.84,69.79 413.84,73.14 416.77,71.47" fill="#9467bd"/>
<polygon points="421.44,66.70 421.44,70.05 424.37,68.38" fill="#9467bd"/>
<polygon points="429.04,63.75 429.04,67.10 431.97,65.43" fill="#9467bd"/>
<polygon points="436.64,60.95 436.64,64.30 439.57,62.62" fill="#9467bd"/>
<polygon points="444.24,58.22 444.24,61.57 447.17,59.89" fill="#9467bd"/>
<polygon points="451.84,55.56 451.84,58.90 454.77,57.23" fill="#9467bd"/>
<polygon points="459.44,52.94 459.44,56.29 462.37,54.61" fill="#9467bd"/>
<polygon points="467.04,50.36 467.04,53.71 469.97,52.03" fill="#9467bd"/>
<polygon points="474.64,47.83 474.64,51.17 477.57,49.50" fill="#9467bd"/>
<polygon points="482.24,45.35 482.24,48.70 485.17,47.03" fill="#9467bd"/>
<polygon points="489.84,42.90 489.84,46.25 492.77,44.58" fill="#9467bd"/>
<polygon points="497.44,40.45 497.44,43.80 500.37,42.12" fill="#9467bd"/>
<polygon points="505.04,37.98 505.04,41.33 507.97,39.66" fill="#9467bd"/>
<polygon points="512.64,35.52 512.64,38.87 515.57,37.19" fill="#9467bd"/>
<polygon points="520.24,33.06 520.24,36.41 523.17,34.73" fill="#9467bd"/>
<polygon points="527.84,30.61 527.84,33.95 530.77,32.28" fill="#9467bd"/>
<polygon points="535.44,28.15 535.44,31.50 538.37,29.83" fill="#9467bd"/>
<rect x="322.50" y="153.58" width="2.79" height="2.79" fill="#8c564b"/>
<rect x="330.11" y="128.07" width="2.79" height="2.79" fill="#8c564b"/>
<rect x="337.71" y="110.09" width="2.79" height="2.79" fill="#8c564b"/>
<rect x="345.31" y="97.25" width="2.79" height="2.79" fill="#8c564b"/>
<rect x="352.91" y="88.07" width="2.79" height="2.79" fill="#8c564b"/>
<rect x="360.50" y="81.28" width="2.79" height="2.79" fill="#8c564b"/>
<rect x="368.11" y="75.78" width="2.79" height="2.79" fill="#8c564b"/>
<rect x="375.71" y="71.37" width="2.79" height="2.79" fill="#8c564b"/>
<rect x="383.31" y="67.89" width="2.79" height="2.79" fill="#8c564b"/>
<rect x="390.91" y="64.03" width="2.79" height="2.79" fill="#8c564b"/>
<rect x="398.50" y="61.05" width="2.79" height="2.79" fill="#8c564b"/>
<rect x="406.11" y="58.43" width="2.79" height="2.79" fill="#8c564b"/>
<rect x="413.71" y="55.77" width="2.79" height="2.79" fill="#8c564b"/>
<rect x="421.31" y="52.89" width="2.79" height="2.79" fill="#8c564b"/>
<rect x="428.91" y="49.96" width="2.79" height="2.79" fill="#8c564b"/>
<rect x="436.50" y="47.15" width="2.79" height="2.79" fill="#8c564b"/>
<rect x="444.11" y="44.58" width="2.79" height="2.79" fill="#8c564b"/>
<rect x="451.71" y="42.01" width="2.79" height="2.79" fill="#8c564b"/>
<rect x="459.31" y="39.99" width="2.79" height="2.79" fill="#8c564b"/>
<rect x="466.90" y="36.87" width="2.79" height="2.79" fill="#8c564b"/>
<rect x="474.50" y="34.49" width="2.79" height="2.79" fill="#8c564b"/>
<rect x="482.11" y="31.74" width="2.79" height="2.79" fill="#8c564b"/>
<rect x="489.71" y="29.30" width="2.79" height="2.79" fill="#8c564b"/>
<rect x="497.31" y="26.97" width="2.79" height="2.79" fill="#8c564b"/>
<rect x="504.90" y="24.60" width="2.79" height="2.79" fill="#8c564b"/>
<rect x="512.50" y="22.19" width="2.79" height="2.79" fill="#8c564b"/>
<rect x="520.11" y="19.65" width="2.79" height="2.79" fill="#8c564b"/>
<rect x="527.71" y="17.06" width="2.79" height="2.79" fill="#8c564b"/>
<rect x="535.31" y="14.49" width="2.79" height="2.79" fill="#8c564b"/>
<line x1="388.50" y1="69.46" x2="540.50" y2="19.00" stroke="#1f77b4" stroke-width="0.7" stroke-dasharray="2,1.1" stroke-opacity="0.9"/>
<line x1="388.50" y1="66.34" x2="540.50" y2="17.53" stroke="#8c564b" stroke-width="0.7" stroke-dasharray="2,1.1" stroke-opacity="0.9"/>
<line x1="388.50" y1="78.82" x2="540.50" y2="30.20" stroke="#ff7f0e" stroke-width="0.7" stroke-dasharray="2,1.1" stroke-opacity="0.9"/>
<line x1="388.50" y1="75.70" x2="540.50" y2="29.28" stroke="#9467bd" stroke-width="0.7" stroke-dasharray="2,1.1" stroke-opacity="0.9"/>
<line x1="388.50" y1="91.67" x2="540.50" y2="41.94" stroke="#d62728" stroke-width="0.7" stroke-dasharray="2,1.1" stroke-opacity="0.9"/>
<line x1="388.50" y1="91.12" x2="540.50" y2="41.57" stroke="#2ca02c" stroke-width="0.7" stroke-dasharray="2,1.1" stroke-opacity="0.9"/>
</g>
<rect x="312.5" y="9.0" width="228.0" height="158.4" fill="none" stroke="#8a8a8a" stroke-width="1.1"/>
<line x1="312.50" y1="167.4" x2="312.50" y2="169.20" stroke="#606060" stroke-width="0.7"/>
<text x="312.50" y="176.60" text-anchor="middle" class="tk">0</text>
<line x1="350.50" y1="167.4" x2="350.50" y2="169.20" stroke="#606060" stroke-width="0.7"/>
<text x="350.50" y="176.60" text-anchor="middle" class="tk">10</text>
<line x1="388.50" y1="167.4" x2="388.50" y2="169.20" stroke="#606060" stroke-width="0.7"/>
<text x="388.50" y="176.60" text-anchor="middle" class="tk">20</text>
<line x1="426.50" y1="167.4" x2="426.50" y2="169.20" stroke="#606060" stroke-width="0.7"/>
<text x="426.50" y="176.60" text-anchor="middle" class="tk">30</text>
<line x1="464.50" y1="167.4" x2="464.50" y2="169.20" stroke="#606060" stroke-width="0.7"/>
<text x="464.50" y="176.60" text-anchor="middle" class="tk">40</text>
<line x1="502.50" y1="167.4" x2="502.50" y2="169.20" stroke="#606060" stroke-width="0.7"/>
<text x="502.50" y="176.60" text-anchor="middle" class="tk">50</text>
<line x1="540.50" y1="167.4" x2="540.50" y2="169.20" stroke="#606060" stroke-width="0.7"/>
<text x="540.50" y="176.60" text-anchor="middle" class="tk">60</text>
<line x1="310.70" y1="163.60" x2="312.5" y2="163.60" stroke="#606060" stroke-width="0.7"/>
<rect x="290.10" y="164.00" width="5.6" height="1" fill="#262626"/>
<text x="309.50" y="166.70" text-anchor="end" class="tk">0.2</text>
<line x1="310.70" y1="145.25" x2="312.5" y2="145.25" stroke="#606060" stroke-width="0.7"/>
<rect x="290.10" y="146.00" width="5.6" height="1" fill="#262626"/>
<text x="309.50" y="148.35" text-anchor="end" class="tk">0.1</text>
<line x1="310.70" y1="126.90" x2="312.5" y2="126.90" stroke="#606060" stroke-width="0.7"/>
<text x="309.50" y="130.00" text-anchor="end" class="tk">0.0</text>
<line x1="310.70" y1="108.55" x2="312.5" y2="108.55" stroke="#606060" stroke-width="0.7"/>
<text x="309.50" y="111.65" text-anchor="end" class="tk">0.1</text>
<line x1="310.70" y1="90.20" x2="312.5" y2="90.20" stroke="#606060" stroke-width="0.7"/>
<text x="309.50" y="93.30" text-anchor="end" class="tk">0.2</text>
<line x1="310.70" y1="71.85" x2="312.5" y2="71.85" stroke="#606060" stroke-width="0.7"/>
<text x="309.50" y="74.95" text-anchor="end" class="tk">0.3</text>
<line x1="310.70" y1="53.50" x2="312.5" y2="53.50" stroke="#606060" stroke-width="0.7"/>
<text x="309.50" y="56.60" text-anchor="end" class="tk">0.4</text>
<line x1="310.70" y1="35.15" x2="312.5" y2="35.15" stroke="#606060" stroke-width="0.7"/>
<text x="309.50" y="38.25" text-anchor="end" class="tk">0.5</text>
<line x1="310.70" y1="16.80" x2="312.5" y2="16.80" stroke="#606060" stroke-width="0.7"/>
<text x="309.50" y="19.90" text-anchor="end" class="tk">0.6</text>
<text x="426.5" y="187.3" text-anchor="middle" class="xl" textLength="115" lengthAdjust="spacingAndGlyphs">Distance of two ends (b)</text>
<text transform="translate(287.1,88.10000000000001) rotate(-90)" text-anchor="middle" class="xl" textLength="63" lengthAdjust="spacingAndGlyphs">Force (<tspan font-style="italic">k</tspan><tspan font-style="italic" font-size="6.3" dy="1.8">B</tspan><tspan dy="-1.8" font-style="italic">T</tspan>/<tspan font-style="italic">b</tspan>)</text>
<text x="355.7" y="25.9" class="ttl">(b)</text>
<rect x="505.2" y="108.4" width="32.0" height="55.8" rx="1.2" fill="#ffffff" fill-opacity="0.85" stroke="#e0e0e0" stroke-width="0.8"/>
<line x1="507.70" y1="113.2" x2="520.30" y2="113.2" stroke="#1f77b4" stroke-width="0.45" stroke-opacity="0.2"/>
<circle cx="514.00" cy="113.20" r="1.55" fill="#1f77b4"/>
<text x="525.00" y="115.60" class="lg"><tspan font-style="italic">a</tspan><tspan font-size="5.0" dy="-2.4">3</tspan></text>
<line x1="507.70" y1="122.4" x2="520.30" y2="122.4" stroke="#ff7f0e" stroke-width="0.45" stroke-opacity="0.2"/>
<polygon points="512.33,121.14 515.67,121.14 514.00,124.07" fill="#ff7f0e"/>
<text x="525.00" y="124.80" class="lg"><tspan font-style="italic">a</tspan><tspan font-size="5.0" dy="-2.4">2</tspan></text>
<line x1="507.70" y1="131.6" x2="520.30" y2="131.6" stroke="#2ca02c" stroke-width="0.45" stroke-opacity="0.2"/>
<polygon points="512.33,132.86 515.67,132.86 514.00,129.93" fill="#2ca02c"/>
<text x="525.00" y="134.00" class="lg"><tspan font-style="italic">a</tspan></text>
<line x1="507.70" y1="140.8" x2="520.30" y2="140.8" stroke="#d62728" stroke-width="0.45" stroke-opacity="0.2"/>
<polygon points="515.26,139.13 515.26,142.47 512.33,140.80" fill="#d62728"/>
<text x="525.00" y="143.20" class="lg"><tspan font-style="italic">e</tspan></text>
<line x1="507.70" y1="149.9" x2="520.30" y2="149.9" stroke="#9467bd" stroke-width="0.45" stroke-opacity="0.2"/>
<polygon points="512.74,148.23 512.74,151.57 515.67,149.90" fill="#9467bd"/>
<text x="525.00" y="152.30" class="lg"><tspan font-style="italic">a</tspan><tspan font-size="5.0" dy="-2.4">−1</tspan></text>
<line x1="507.70" y1="158.6" x2="520.30" y2="158.6" stroke="#8c564b" stroke-width="0.45" stroke-opacity="0.2"/>
<rect x="512.61" y="157.20" width="2.79" height="2.79" fill="#8c564b"/>
<text x="525.00" y="161.00" class="lg"><tspan font-style="italic">a</tspan><tspan font-size="5.0" dy="-2.4">−2</tspan></text>
<clipPath id="clipc"><rect x="38.5" y="202.5" width="229.5" height="159.89999999999998"/></clipPath>
<g clip-path="url(#clipc)">
<polyline points="49.98,266.96 57.62,260.71 65.28,257.19 72.93,255.24 80.58,253.87 88.22,253.09 95.88,252.50 103.53,251.72 111.17,250.94 118.83,249.96 126.48,248.64 134.12,247.05 141.78,245.30 149.43,243.51 157.07,241.68 164.73,239.75 172.38,237.74 180.03,235.67 187.68,233.55 195.33,231.37 202.97,229.11 210.62,226.79 218.28,224.42 225.93,222.02 233.58,219.58 241.23,217.09 248.88,214.54 256.52,211.95 264.18,209.32" fill="none" stroke="#1f77b4" stroke-width="0.45" stroke-opacity="0.27"/>
<polyline points="49.98,276.93 57.62,273.80 65.28,271.65 72.93,271.26 80.58,271.07 88.22,270.87 95.88,270.68 103.53,270.28 111.17,270.09 118.83,268.14 126.48,266.18 134.12,264.26 141.78,262.36 149.43,260.51 157.07,258.80 164.73,257.20 172.38,255.60 180.03,253.87 187.68,251.92 195.33,249.59 202.97,246.91 210.62,244.04 218.28,241.10 225.93,238.24 233.58,235.46 241.23,232.66 248.88,229.84 256.52,227.02 264.18,224.17" fill="none" stroke="#ff7f0e" stroke-width="0.45" stroke-opacity="0.27"/>
<polyline points="49.98,318.16 57.62,313.27 65.28,309.36 72.93,306.24 80.58,303.70 88.22,301.74 95.88,299.59 103.53,297.45 111.17,295.49 118.83,293.34 126.48,291.05 134.12,288.67 141.78,286.23 149.43,283.75 157.07,281.23 164.73,278.66 172.38,276.02 180.03,273.35 187.68,270.68 195.33,268.02 202.97,265.38 210.62,262.71 218.28,259.99 225.93,257.19 233.58,254.31 241.23,251.37 248.88,248.36 256.52,245.28 264.18,242.15" fill="none" stroke="#2ca02c" stroke-width="0.45" stroke-opacity="0.27"/>
<polyline points="49.98,355.28 57.62,345.12 65.28,336.92 72.93,329.49 80.58,323.24 88.22,317.96 95.88,313.27 103.53,308.97 111.17,304.87 118.83,300.96 126.48,297.51 134.12,294.29 141.78,291.18 149.43,288.07 157.07,284.91 164.73,281.78 172.38,278.68 180.03,275.63 187.68,272.63 195.33,269.71 202.97,266.87 210.62,264.06 218.28,261.24 225.93,258.37 233.58,255.44 241.23,252.50 248.88,249.53 256.52,246.53 264.18,243.51" fill="none" stroke="#d62728" stroke-width="0.45" stroke-opacity="0.27"/>
<polyline points="49.98,354.50 57.62,339.46 65.28,327.15 72.93,316.59 80.58,308.39 88.22,301.16 95.88,295.10 103.53,290.22 111.17,285.53 118.83,281.42 126.48,277.49 134.12,273.62 141.78,269.99 149.43,266.77 157.07,264.03 164.73,261.62 172.38,259.35 180.03,257.03 187.68,254.46 195.33,251.55 202.97,248.40 210.62,245.15 218.28,241.92 225.93,238.83 233.58,235.87 241.23,232.96 248.88,230.11 256.52,227.31 264.18,224.56" fill="none" stroke="#9467bd" stroke-width="0.45" stroke-opacity="0.27"/>
<polyline points="49.98,353.33 57.62,335.74 65.28,320.70 72.93,308.00 80.58,297.84 88.22,289.24 95.88,282.40 103.53,276.34 111.17,270.48 118.83,266.96 126.48,262.99 134.12,259.15 141.78,256.07 149.43,253.09 157.07,249.64 164.73,246.25 172.38,243.30 180.03,240.55 187.68,237.85 195.33,235.13 202.97,232.45 210.62,229.80 218.28,227.17 225.93,224.56 233.58,221.97 241.23,219.41 248.88,216.87 256.52,214.35 264.18,211.86" fill="none" stroke="#8c564b" stroke-width="0.45" stroke-opacity="0.27"/>
<circle cx="49.98" cy="266.96" r="1.55" fill="#1f77b4"/>
<circle cx="57.62" cy="260.71" r="1.55" fill="#1f77b4"/>
<circle cx="65.28" cy="257.19" r="1.55" fill="#1f77b4"/>
<circle cx="72.93" cy="255.24" r="1.55" fill="#1f77b4"/>
<circle cx="80.58" cy="253.87" r="1.55" fill="#1f77b4"/>
<circle cx="88.22" cy="253.09" r="1.55" fill="#1f77b4"/>
<circle cx="95.88" cy="252.50" r="1.55" fill="#1f77b4"/>
<circle cx="103.53" cy="251.72" r="1.55" fill="#1f77b4"/>
<circle cx="111.17" cy="250.94" r="1.55" fill="#1f77b4"/>
<circle cx="118.83" cy="249.96" r="1.55" fill="#1f77b4"/>
<circle cx="126.48" cy="248.64" r="1.55" fill="#1f77b4"/>
<circle cx="134.12" cy="247.05" r="1.55" fill="#1f77b4"/>
<circle cx="141.78" cy="245.30" r="1.55" fill="#1f77b4"/>
<circle cx="149.43" cy="243.51" r="1.55" fill="#1f77b4"/>
<circle cx="157.07" cy="241.68" r="1.55" fill="#1f77b4"/>
<circle cx="164.73" cy="239.75" r="1.55" fill="#1f77b4"/>
<circle cx="172.38" cy="237.74" r="1.55" fill="#1f77b4"/>
<circle cx="180.03" cy="235.67" r="1.55" fill="#1f77b4"/>
<circle cx="187.68" cy="233.55" r="1.55" fill="#1f77b4"/>
<circle cx="195.33" cy="231.37" r="1.55" fill="#1f77b4"/>
<circle cx="202.97" cy="229.11" r="1.55" fill="#1f77b4"/>
<circle cx="210.62" cy="226.79" r="1.55" fill="#1f77b4"/>
<circle cx="218.28" cy="224.42" r="1.55" fill="#1f77b4"/>
<circle cx="225.93" cy="222.02" r="1.55" fill="#1f77b4"/>
<circle cx="233.58" cy="219.58" r="1.55" fill="#1f77b4"/>
<circle cx="241.23" cy="217.09" r="1.55" fill="#1f77b4"/>
<circle cx="248.88" cy="214.54" r="1.55" fill="#1f77b4"/>
<circle cx="256.52" cy="211.95" r="1.55" fill="#1f77b4"/>
<circle cx="264.18" cy="209.32" r="1.55" fill="#1f77b4"/>
<polygon points="48.30,275.67 51.65,275.67 49.98,278.60" fill="#ff7f0e"/>
<polygon points="55.95,272.55 59.30,272.55 57.62,275.48" fill="#ff7f0e"/>
<polygon points="63.60,270.40 66.95,270.40 65.28,273.33" fill="#ff7f0e"/>
<polygon points="71.25,270.01 74.60,270.01 72.93,272.94" fill="#ff7f0e"/>
<polygon points="78.90,269.81 82.25,269.81 80.58,272.74" fill="#ff7f0e"/>
<polygon points="86.55,269.62 89.90,269.62 88.22,272.54" fill="#ff7f0e"/>
<polygon points="94.20,269.42 97.55,269.42 95.88,272.35" fill="#ff7f0e"/>
<polygon points="101.85,269.03 105.20,269.03 103.53,271.96" fill="#ff7f0e"/>
<polygon points="109.50,268.83 112.85,268.83 111.17,271.76" fill="#ff7f0e"/>
<polygon points="117.15,266.88 120.50,266.88 118.83,269.81" fill="#ff7f0e"/>
<polygon points="124.80,264.93 128.15,264.93 126.48,267.86" fill="#ff7f0e"/>
<polygon points="132.45,263.00 135.80,263.00 134.12,265.93" fill="#ff7f0e"/>
<polygon points="140.10,261.10 143.45,261.10 141.78,264.03" fill="#ff7f0e"/>
<polygon points="147.75,259.26 151.10,259.26 149.43,262.19" fill="#ff7f0e"/>
<polygon points="155.40,257.55 158.75,257.55 157.07,260.48" fill="#ff7f0e"/>
<polygon points="163.05,255.95 166.40,255.95 164.73,258.87" fill="#ff7f0e"/>
<polygon points="170.70,254.34 174.05,254.34 172.38,257.27" fill="#ff7f0e"/>
<polygon points="178.35,252.62 181.70,252.62 180.03,255.55" fill="#ff7f0e"/>
<polygon points="186.00,250.66 189.35,250.66 187.68,253.59" fill="#ff7f0e"/>
<polygon points="193.65,248.33 197.00,248.33 195.33,251.26" fill="#ff7f0e"/>
<polygon points="201.30,245.66 204.65,245.66 202.97,248.59" fill="#ff7f0e"/>
<polygon points="208.95,242.78 212.30,242.78 210.62,245.71" fill="#ff7f0e"/>
<polygon points="216.60,239.84 219.95,239.84 218.28,242.77" fill="#ff7f0e"/>
<polygon points="224.25,236.98 227.60,236.98 225.93,239.91" fill="#ff7f0e"/>
<polygon points="231.90,234.20 235.25,234.20 233.58,237.13" fill="#ff7f0e"/>
<polygon points="239.55,231.40 242.90,231.40 241.23,234.33" fill="#ff7f0e"/>
<polygon points="247.20,228.59 250.55,228.59 248.88,231.52" fill="#ff7f0e"/>
<polygon points="254.85,225.76 258.20,225.76 256.52,228.69" fill="#ff7f0e"/>
<polygon points="262.50,222.91 265.85,222.91 264.18,225.84" fill="#ff7f0e"/>
<polygon points="48.30,319.41 51.65,319.41 49.98,316.48" fill="#2ca02c"/>
<polygon points="55.95,314.53 59.30,314.53 57.62,311.60" fill="#2ca02c"/>
<polygon points="63.60,310.62 66.95,310.62 65.28,307.69" fill="#2ca02c"/>
<polygon points="71.25,307.49 74.60,307.49 72.93,304.56" fill="#2ca02c"/>
<polygon points="78.90,304.95 82.25,304.95 80.58,302.02" fill="#2ca02c"/>
<polygon points="86.55,303.00 89.90,303.00 88.22,300.07" fill="#2ca02c"/>
<polygon points="94.20,300.85 97.55,300.85 95.88,297.92" fill="#2ca02c"/>
<polygon points="101.85,298.70 105.20,298.70 103.53,295.77" fill="#2ca02c"/>
<polygon points="109.50,296.75 112.85,296.75 111.17,293.82" fill="#2ca02c"/>
<polygon points="117.15,294.60 120.50,294.60 118.83,291.67" fill="#2ca02c"/>
<polygon points="124.80,292.30 128.15,292.30 126.48,289.37" fill="#2ca02c"/>
<polygon points="132.45,289.93 135.80,289.93 134.12,287.00" fill="#2ca02c"/>
<polygon points="140.10,287.49 143.45,287.49 141.78,284.56" fill="#2ca02c"/>
<polygon points="147.75,285.00 151.10,285.00 149.43,282.07" fill="#2ca02c"/>
<polygon points="155.40,282.48 158.75,282.48 157.07,279.55" fill="#2ca02c"/>
<polygon points="163.05,279.91 166.40,279.91 164.73,276.98" fill="#2ca02c"/>
<polygon points="170.70,277.27 174.05,277.27 172.38,274.35" fill="#2ca02c"/>
<polygon points="178.35,274.60 181.70,274.60 180.03,271.68" fill="#2ca02c"/>
<polygon points="186.00,271.93 189.35,271.93 187.68,269.00" fill="#2ca02c"/>
<polygon points="193.65,269.28 197.00,269.28 195.33,266.35" fill="#2ca02c"/>
<polygon points="201.30,266.63 204.65,266.63 202.97,263.70" fill="#2ca02c"/>
<polygon points="208.95,263.96 212.30,263.96 210.62,261.03" fill="#2ca02c"/>
<polygon points="216.60,261.24 219.95,261.24 218.28,258.31" fill="#2ca02c"/>
<polygon points="224.25,258.45 227.60,258.45 225.93,255.52" fill="#2ca02c"/>
<polygon points="231.90,255.57 235.25,255.57 233.58,252.64" fill="#2ca02c"/>
<polygon points="239.55,252.62 242.90,252.62 241.23,249.69" fill="#2ca02c"/>
<polygon points="247.20,249.61 250.55,249.61 248.88,246.68" fill="#2ca02c"/>
<polygon points="254.85,246.54 258.20,246.54 256.52,243.61" fill="#2ca02c"/>
<polygon points="262.50,243.40 265.85,243.40 264.18,240.47" fill="#2ca02c"/>
<polygon points="51.23,353.61 51.23,356.96 48.30,355.28" fill="#d62728"/>
<polygon points="58.88,343.45 58.88,346.80 55.95,345.12" fill="#d62728"/>
<polygon points="66.53,335.24 66.53,338.59 63.60,336.92" fill="#d62728"/>
<polygon points="74.18,327.82 74.18,331.16 71.25,329.49" fill="#d62728"/>
<polygon points="81.83,321.56 81.83,324.91 78.90,323.24" fill="#d62728"/>
<polygon points="89.48,316.29 89.48,319.64 86.55,317.96" fill="#d62728"/>
<polygon points="97.13,311.60 97.13,314.95 94.20,313.27" fill="#d62728"/>
<polygon points="104.78,307.30 104.78,310.65 101.85,308.97" fill="#d62728"/>
<polygon points="112.43,303.20 112.43,306.54 109.50,304.87" fill="#d62728"/>
<polygon points="120.08,299.29 120.08,302.64 117.15,300.96" fill="#d62728"/>
<polygon points="127.73,295.84 127.73,299.19 124.80,297.51" fill="#d62728"/>
<polygon points="135.38,292.62 135.38,295.97 132.45,294.29" fill="#d62728"/>
<polygon points="143.03,289.51 143.03,292.86 140.10,291.18" fill="#d62728"/>
<polygon points="150.68,286.39 150.68,289.74 147.75,288.07" fill="#d62728"/>
<polygon points="158.33,283.24 158.33,286.59 155.40,284.91" fill="#d62728"/>
<polygon points="165.98,280.11 165.98,283.46 163.05,281.78" fill="#d62728"/>
<polygon points="173.63,277.01 173.63,280.36 170.70,278.68" fill="#d62728"/>
<polygon points="181.28,273.95 181.28,277.30 178.35,275.63" fill="#d62728"/>
<polygon points="188.93,270.96 188.93,274.30 186.00,272.63" fill="#d62728"/>
<polygon points="196.58,268.04 196.58,271.39 193.65,269.71" fill="#d62728"/>
<polygon points="204.23,265.20 204.23,268.54 201.30,266.87" fill="#d62728"/>
<polygon points="211.88,262.38 211.88,265.73 208.95,264.06" fill="#d62728"/>
<polygon points="219.53,259.56 219.53,262.91 216.60,261.24" fill="#d62728"/>
<polygon points="227.18,256.69 227.18,260.04 224.25,258.37" fill="#d62728"/>
<polygon points="234.83,253.77 234.83,257.12 231.90,255.44" fill="#d62728"/>
<polygon points="242.48,250.82 242.48,254.17 239.55,252.50" fill="#d62728"/>
<polygon points="250.13,247.85 250.13,251.20 247.20,249.53" fill="#d62728"/>
<polygon points="257.78,244.86 257.78,248.21 254.85,246.53" fill="#d62728"/>
<polygon points="265.43,241.84 265.43,245.19 262.50,243.51" fill="#d62728"/>
<polygon points="48.72,352.83 48.72,356.18 51.65,354.50" fill="#9467bd"/>
<polygon points="56.37,337.78 56.37,341.13 59.30,339.46" fill="#9467bd"/>
<polygon points="64.02,325.47 64.02,328.82 66.95,327.15" fill="#9467bd"/>
<polygon points="71.67,314.92 71.67,318.27 74.60,316.59" fill="#9467bd"/>
<polygon points="79.32,306.71 79.32,310.06 82.25,308.39" fill="#9467bd"/>
<polygon points="86.97,299.48 86.97,302.83 89.90,301.16" fill="#9467bd"/>
<polygon points="94.62,293.43 94.62,296.77 97.55,295.10" fill="#9467bd"/>
<polygon points="102.27,288.54 102.27,291.89 105.20,290.22" fill="#9467bd"/>
<polygon points="109.92,283.85 109.92,287.20 112.85,285.53" fill="#9467bd"/>
<polygon points="117.57,279.75 117.57,283.10 120.50,281.42" fill="#9467bd"/>
<polygon points="125.22,275.81 125.22,279.16 128.15,277.49" fill="#9467bd"/>
<polygon points="132.87,271.95 132.87,275.29 135.80,273.62" fill="#9467bd"/>
<polygon points="140.52,268.32 140.52,271.67 143.45,269.99" fill="#9467bd"/>
<polygon points="148.17,265.09 148.17,268.44 151.10,266.77" fill="#9467bd"/>
<polygon points="155.82,262.36 155.82,265.70 158.75,264.03" fill="#9467bd"/>
<polygon points="163.47,259.95 163.47,263.29 166.40,261.62" fill="#9467bd"/>
<polygon points="171.12,257.68 171.12,261.02 174.05,259.35" fill="#9467bd"/>
<polygon points="178.77,255.35 178.77,258.70 181.70,257.03" fill="#9467bd"/>
<polygon points="186.42,252.78 186.42,256.13 189.35,254.46" fill="#9467bd"/>
<polygon points="194.07,249.87 194.07,253.22 197.00,251.55" fill="#9467bd"/>
<polygon points="201.72,246.73 201.72,250.08 204.65,248.40" fill="#9467bd"/>
<polygon points="209.37,243.48 209.37,246.83 212.30,245.15" fill="#9467bd"/>
<polygon points="217.02,240.25 217.02,243.59 219.95,241.92" fill="#9467bd"/>
<polygon points="224.67,237.15 224.67,240.50 227.60,238.83" fill="#9467bd"/>
<polygon points="232.32,234.19 232.32,237.54 235.25,235.87" fill="#9467bd"/>
<polygon points="239.97,231.29 239.97,234.63 242.90,232.96" fill="#9467bd"/>
<polygon points="247.62,228.43 247.62,231.78 250.55,230.11" fill="#9467bd"/>
<polygon points="255.27,225.63 255.27,228.98 258.20,227.31" fill="#9467bd"/>
<polygon points="262.92,222.89 262.92,226.24 265.85,224.56" fill="#9467bd"/>
<rect x="48.58" y="351.93" width="2.79" height="2.79" fill="#8c564b"/>
<rect x="56.23" y="334.35" width="2.79" height="2.79" fill="#8c564b"/>
<rect x="63.88" y="319.30" width="2.79" height="2.79" fill="#8c564b"/>
<rect x="71.53" y="306.60" width="2.79" height="2.79" fill="#8c564b"/>
<rect x="79.18" y="296.44" width="2.79" height="2.79" fill="#8c564b"/>
<rect x="86.83" y="287.84" width="2.79" height="2.79" fill="#8c564b"/>
<rect x="94.48" y="281.00" width="2.79" height="2.79" fill="#8c564b"/>
<rect x="102.13" y="274.95" width="2.79" height="2.79" fill="#8c564b"/>
<rect x="109.78" y="269.09" width="2.79" height="2.79" fill="#8c564b"/>
<rect x="117.43" y="265.57" width="2.79" height="2.79" fill="#8c564b"/>
<rect x="125.08" y="261.59" width="2.79" height="2.79" fill="#8c564b"/>
<rect x="132.73" y="257.75" width="2.79" height="2.79" fill="#8c564b"/>
<rect x="140.38" y="254.67" width="2.79" height="2.79" fill="#8c564b"/>
<rect x="148.03" y="251.69" width="2.79" height="2.79" fill="#8c564b"/>
<rect x="155.68" y="248.25" width="2.79" height="2.79" fill="#8c564b"/>
<rect x="163.33" y="244.86" width="2.79" height="2.79" fill="#8c564b"/>
<rect x="170.98" y="241.91" width="2.79" height="2.79" fill="#8c564b"/>
<rect x="178.63" y="239.16" width="2.79" height="2.79" fill="#8c564b"/>
<rect x="186.28" y="236.45" width="2.79" height="2.79" fill="#8c564b"/>
<rect x="193.93" y="233.74" width="2.79" height="2.79" fill="#8c564b"/>
<rect x="201.58" y="231.06" width="2.79" height="2.79" fill="#8c564b"/>
<rect x="209.23" y="228.40" width="2.79" height="2.79" fill="#8c564b"/>
<rect x="216.88" y="225.77" width="2.79" height="2.79" fill="#8c564b"/>
<rect x="224.53" y="223.17" width="2.79" height="2.79" fill="#8c564b"/>
<rect x="232.18" y="220.58" width="2.79" height="2.79" fill="#8c564b"/>
<rect x="239.83" y="218.02" width="2.79" height="2.79" fill="#8c564b"/>
<rect x="247.48" y="215.48" width="2.79" height="2.79" fill="#8c564b"/>
<rect x="255.13" y="212.96" width="2.79" height="2.79" fill="#8c564b"/>
<rect x="262.78" y="210.47" width="2.79" height="2.79" fill="#8c564b"/>
<line x1="115.00" y1="265.20" x2="268.00" y2="213.23" stroke="#1f77b4" stroke-width="0.7" stroke-dasharray="2,1.1" stroke-opacity="0.9"/>
<line x1="115.00" y1="260.32" x2="268.00" y2="211.86" stroke="#8c564b" stroke-width="0.7" stroke-dasharray="2,1.1" stroke-opacity="0.9"/>
<line x1="115.00" y1="275.37" x2="268.00" y2="223.58" stroke="#ff7f0e" stroke-width="0.7" stroke-dasharray="2,1.1" stroke-opacity="0.9"/>
<line x1="115.00" y1="270.87" x2="268.00" y2="223.19" stroke="#9467bd" stroke-width="0.7" stroke-dasharray="2,1.1" stroke-opacity="0.9"/>
<line x1="115.00" y1="288.26" x2="268.00" y2="237.07" stroke="#d62728" stroke-width="0.7" stroke-dasharray="2,1.1" stroke-opacity="0.9"/>
<line x1="115.00" y1="287.87" x2="268.00" y2="236.68" stroke="#2ca02c" stroke-width="0.7" stroke-dasharray="2,1.1" stroke-opacity="0.9"/>
</g>
<rect x="38.5" y="202.5" width="229.5" height="159.89999999999998" fill="none" stroke="#8a8a8a" stroke-width="1.1"/>
<line x1="38.50" y1="362.4" x2="38.50" y2="364.20" stroke="#606060" stroke-width="0.7"/>
<text x="38.50" y="371.60" text-anchor="middle" class="tk">0</text>
<line x1="76.75" y1="362.4" x2="76.75" y2="364.20" stroke="#606060" stroke-width="0.7"/>
<text x="76.75" y="371.60" text-anchor="middle" class="tk">10</text>
<line x1="115.00" y1="362.4" x2="115.00" y2="364.20" stroke="#606060" stroke-width="0.7"/>
<text x="115.00" y="371.60" text-anchor="middle" class="tk">20</text>
<line x1="153.25" y1="362.4" x2="153.25" y2="364.20" stroke="#606060" stroke-width="0.7"/>
<text x="153.25" y="371.60" text-anchor="middle" class="tk">30</text>
<line x1="191.50" y1="362.4" x2="191.50" y2="364.20" stroke="#606060" stroke-width="0.7"/>
<text x="191.50" y="371.60" text-anchor="middle" class="tk">40</text>
<line x1="229.75" y1="362.4" x2="229.75" y2="364.20" stroke="#606060" stroke-width="0.7"/>
<text x="229.75" y="371.60" text-anchor="middle" class="tk">50</text>
<line x1="268.00" y1="362.4" x2="268.00" y2="364.20" stroke="#606060" stroke-width="0.7"/>
<text x="268.00" y="371.60" text-anchor="middle" class="tk">60</text>
<line x1="36.70" y1="348.64" x2="38.5" y2="348.64" stroke="#606060" stroke-width="0.7"/>
<rect x="16.10" y="349.00" width="5.6" height="1" fill="#262626"/>
<text x="35.50" y="351.74" text-anchor="end" class="tk">0.1</text>
<line x1="36.70" y1="329.10" x2="38.5" y2="329.10" stroke="#606060" stroke-width="0.7"/>
<text x="35.50" y="332.20" text-anchor="end" class="tk">0.0</text>
<line x1="36.70" y1="309.56" x2="38.5" y2="309.56" stroke="#606060" stroke-width="0.7"/>
<text x="35.50" y="312.66" text-anchor="end" class="tk">0.1</text>
<line x1="36.70" y1="290.02" x2="38.5" y2="290.02" stroke="#606060" stroke-width="0.7"/>
<text x="35.50" y="293.12" text-anchor="end" class="tk">0.2</text>
<line x1="36.70" y1="270.48" x2="38.5" y2="270.48" stroke="#606060" stroke-width="0.7"/>
<text x="35.50" y="273.58" text-anchor="end" class="tk">0.3</text>
<line x1="36.70" y1="250.94" x2="38.5" y2="250.94" stroke="#606060" stroke-width="0.7"/>
<text x="35.50" y="254.04" text-anchor="end" class="tk">0.4</text>
<line x1="36.70" y1="231.40" x2="38.5" y2="231.40" stroke="#606060" stroke-width="0.7"/>
<text x="35.50" y="234.50" text-anchor="end" class="tk">0.5</text>
<line x1="36.70" y1="211.86" x2="38.5" y2="211.86" stroke="#606060" stroke-width="0.7"/>
<text x="35.50" y="214.96" text-anchor="end" class="tk">0.6</text>
<text x="153.2" y="381.5" text-anchor="middle" class="xl" textLength="115" lengthAdjust="spacingAndGlyphs">Distance of two ends (b)</text>
<text transform="translate(12.6,278.7) rotate(-90)" text-anchor="middle" class="xl" textLength="63" lengthAdjust="spacingAndGlyphs">Force (<tspan font-style="italic">k</tspan><tspan font-style="italic" font-size="6.3" dy="1.8">B</tspan><tspan dy="-1.8" font-style="italic">T</tspan>/<tspan font-style="italic">b</tspan>)</text>
<text x="79.4" y="218.9" class="ttl">(c)</text>
<rect x="231.7" y="303.4" width="32.8" height="55.8" rx="1.2" fill="#ffffff" fill-opacity="0.85" stroke="#e0e0e0" stroke-width="0.8"/>
<line x1="234.70" y1="307.9" x2="247.30" y2="307.9" stroke="#1f77b4" stroke-width="0.45" stroke-opacity="0.2"/>
<circle cx="241.00" cy="307.90" r="1.55" fill="#1f77b4"/>
<text x="252.00" y="310.30" class="lg"><tspan font-style="italic">a</tspan><tspan font-size="5.0" dy="-2.4">3</tspan></text>
<line x1="234.70" y1="317.1" x2="247.30" y2="317.1" stroke="#ff7f0e" stroke-width="0.45" stroke-opacity="0.2"/>
<polygon points="239.33,315.84 242.67,315.84 241.00,318.77" fill="#ff7f0e"/>
<text x="252.00" y="319.50" class="lg"><tspan font-style="italic">a</tspan><tspan font-size="5.0" dy="-2.4">2</tspan></text>
<line x1="234.70" y1="326.3" x2="247.30" y2="326.3" stroke="#2ca02c" stroke-width="0.45" stroke-opacity="0.2"/>
<polygon points="239.33,327.56 242.67,327.56 241.00,324.63" fill="#2ca02c"/>
<text x="252.00" y="328.70" class="lg"><tspan font-style="italic">a</tspan></text>
<line x1="234.70" y1="335.4" x2="247.30" y2="335.4" stroke="#d62728" stroke-width="0.45" stroke-opacity="0.2"/>
<polygon points="242.26,333.73 242.26,337.07 239.33,335.40" fill="#d62728"/>
<text x="252.00" y="337.80" class="lg"><tspan font-style="italic">e</tspan></text>
<line x1="234.70" y1="344.6" x2="247.30" y2="344.6" stroke="#9467bd" stroke-width="0.45" stroke-opacity="0.2"/>
<polygon points="239.74,342.93 239.74,346.27 242.67,344.60" fill="#9467bd"/>
<text x="252.00" y="347.00" class="lg"><tspan font-style="italic">a</tspan><tspan font-size="5.0" dy="-2.4">−1</tspan></text>
<line x1="234.70" y1="353.4" x2="247.30" y2="353.4" stroke="#8c564b" stroke-width="0.45" stroke-opacity="0.2"/>
<rect x="239.60" y="352.00" width="2.79" height="2.79" fill="#8c564b"/>
<text x="252.00" y="355.80" class="lg"><tspan font-style="italic">a</tspan><tspan font-size="5.0" dy="-2.4">−2</tspan></text>
<clipPath id="clipd"><rect x="312.5" y="203.4" width="228.0" height="158.6"/></clipPath>
<g clip-path="url(#clipd)">
<polyline points="323.90,314.09 331.50,308.64 339.10,303.41 346.70,298.39 354.30,293.57 361.90,288.95 369.50,284.50 377.10,280.22 384.70,276.10 392.30,272.13 399.90,268.30 407.50,264.59 415.10,260.99 422.70,257.50 430.30,254.10 437.90,250.78 445.50,247.53 453.10,244.35 460.70,241.21 468.30,238.11 475.90,235.03 483.50,231.98 491.10,228.93 498.70,225.87 506.30,222.80 513.90,219.70 521.50,216.56 529.10,213.37 536.70,210.12" fill="none" stroke="#1f77b4" stroke-width="1.1"/>
<circle cx="323.90" cy="314.09" r="1.40" fill="#1f77b4"/>
<circle cx="331.50" cy="308.64" r="1.40" fill="#1f77b4"/>
<circle cx="339.10" cy="303.41" r="1.40" fill="#1f77b4"/>
<circle cx="346.70" cy="298.39" r="1.40" fill="#1f77b4"/>
<circle cx="354.30" cy="293.57" r="1.40" fill="#1f77b4"/>
<circle cx="361.90" cy="288.95" r="1.40" fill="#1f77b4"/>
<circle cx="369.50" cy="284.50" r="1.40" fill="#1f77b4"/>
<circle cx="377.10" cy="280.22" r="1.40" fill="#1f77b4"/>
<circle cx="384.70" cy="276.10" r="1.40" fill="#1f77b4"/>
<circle cx="392.30" cy="272.13" r="1.40" fill="#1f77b4"/>
<circle cx="399.90" cy="268.30" r="1.40" fill="#1f77b4"/>
<circle cx="407.50" cy="264.59" r="1.40" fill="#1f77b4"/>
<circle cx="415.10" cy="260.99" r="1.40" fill="#1f77b4"/>
<circle cx="422.70" cy="257.50" r="1.40" fill="#1f77b4"/>
<circle cx="430.30" cy="254.10" r="1.40" fill="#1f77b4"/>
<circle cx="437.90" cy="250.78" r="1.40" fill="#1f77b4"/>
<circle cx="445.50" cy="247.53" r="1.40" fill="#1f77b4"/>
<circle cx="453.10" cy="244.35" r="1.40" fill="#1f77b4"/>
<circle cx="460.70" cy="241.21" r="1.40" fill="#1f77b4"/>
<circle cx="468.30" cy="238.11" r="1.40" fill="#1f77b4"/>
<circle cx="475.90" cy="235.03" r="1.40" fill="#1f77b4"/>
<circle cx="483.50" cy="231.98" r="1.40" fill="#1f77b4"/>
<circle cx="491.10" cy="228.93" r="1.40" fill="#1f77b4"/>
<circle cx="498.70" cy="225.87" r="1.40" fill="#1f77b4"/>
<circle cx="506.30" cy="222.80" r="1.40" fill="#1f77b4"/>
<circle cx="513.90" cy="219.70" r="1.40" fill="#1f77b4"/>
<circle cx="521.50" cy="216.56" r="1.40" fill="#1f77b4"/>
<circle cx="529.10" cy="213.37" r="1.40" fill="#1f77b4"/>
<circle cx="536.70" cy="210.12" r="1.40" fill="#1f77b4"/>
<polyline points="323.90,317.64 331.50,313.63 339.10,309.70 346.70,305.86 354.30,302.10 361.90,298.41 369.50,294.80 377.10,291.25 384.70,287.77 392.30,284.34 399.90,280.97 407.50,277.64 415.10,274.37 422.70,271.13 430.30,267.93 437.90,264.76 445.50,261.63 453.10,258.51 460.70,255.42 468.30,252.34 475.90,249.27 483.50,246.21 491.10,243.15 498.70,240.09 506.30,237.02 513.90,233.94 521.50,230.85 529.10,227.74 536.70,224.61" fill="none" stroke="#ff7f0e" stroke-width="1.1"/>
<polygon points="322.39,316.51 325.41,316.51 323.90,319.15" fill="#ff7f0e"/>
<polygon points="329.99,312.49 333.01,312.49 331.50,315.14" fill="#ff7f0e"/>
<polygon points="337.59,308.57 340.61,308.57 339.10,311.21" fill="#ff7f0e"/>
<polygon points="345.19,304.73 348.21,304.73 346.70,307.37" fill="#ff7f0e"/>
<polygon points="352.79,300.96 355.81,300.96 354.30,303.61" fill="#ff7f0e"/>
<polygon points="360.39,297.28 363.41,297.28 361.90,299.92" fill="#ff7f0e"/>
<polygon points="367.99,293.66 371.01,293.66 369.50,296.31" fill="#ff7f0e"/>
<polygon points="375.59,290.12 378.61,290.12 377.10,292.76" fill="#ff7f0e"/>
<polygon points="383.19,286.63 386.21,286.63 384.70,289.28" fill="#ff7f0e"/>
<polygon points="390.79,283.21 393.81,283.21 392.30,285.85" fill="#ff7f0e"/>
<polygon points="398.39,279.83 401.41,279.83 399.90,282.48" fill="#ff7f0e"/>
<polygon points="405.99,276.51 409.01,276.51 407.50,279.16" fill="#ff7f0e"/>
<polygon points="413.59,273.23 416.61,273.23 415.10,275.88" fill="#ff7f0e"/>
<polygon points="421.19,270.00 424.21,270.00 422.70,272.64" fill="#ff7f0e"/>
<polygon points="428.79,266.80 431.81,266.80 430.30,269.44" fill="#ff7f0e"/>
<polygon points="436.39,263.63 439.41,263.63 437.90,266.28" fill="#ff7f0e"/>
<polygon points="443.99,260.49 447.01,260.49 445.50,263.14" fill="#ff7f0e"/>
<polygon points="451.59,257.38 454.61,257.38 453.10,260.02" fill="#ff7f0e"/>
<polygon points="459.19,254.28 462.21,254.28 460.70,256.93" fill="#ff7f0e"/>
<polygon points="466.79,251.20 469.81,251.20 468.30,253.85" fill="#ff7f0e"/>
<polygon points="474.39,248.14 477.41,248.14 475.90,250.78" fill="#ff7f0e"/>
<polygon points="481.99,245.07 485.01,245.07 483.50,247.72" fill="#ff7f0e"/>
<polygon points="489.59,242.02 492.61,242.02 491.10,244.66" fill="#ff7f0e"/>
<polygon points="497.19,238.95 500.21,238.95 498.70,241.60" fill="#ff7f0e"/>
<polygon points="504.79,235.89 507.81,235.89 506.30,238.53" fill="#ff7f0e"/>
<polygon points="512.39,232.81 515.41,232.81 513.90,235.46" fill="#ff7f0e"/>
<polygon points="519.99,229.72 523.01,229.72 521.50,232.36" fill="#ff7f0e"/>
<polygon points="527.59,226.61 530.61,226.61 529.10,229.25" fill="#ff7f0e"/>
<polygon points="535.19,223.47 538.21,223.47 536.70,226.12" fill="#ff7f0e"/>
<polyline points="323.90,338.57 331.50,335.25 339.10,331.92 346.70,328.58 354.30,325.24 361.90,321.89 369.50,318.54 377.10,315.18 384.70,311.82 392.30,308.46 399.90,305.10 407.50,301.74 415.10,298.38 422.70,295.02 430.30,291.67 437.90,288.32 445.50,284.98 453.10,281.65 460.70,278.32 468.30,275.01 475.90,271.70 483.50,268.41 491.10,265.12 498.70,261.86 506.30,258.60 513.90,255.36 521.50,252.14 529.10,248.94 536.70,245.75" fill="none" stroke="#2ca02c" stroke-width="1.1"/>
<polygon points="322.39,339.70 325.41,339.70 323.90,337.06" fill="#2ca02c"/>
<polygon points="329.99,336.38 333.01,336.38 331.50,333.74" fill="#2ca02c"/>
<polygon points="337.59,333.06 340.61,333.06 339.10,330.41" fill="#2ca02c"/>
<polygon points="345.19,329.72 348.21,329.72 346.70,327.07" fill="#2ca02c"/>
<polygon points="352.79,326.37 355.81,326.37 354.30,323.73" fill="#2ca02c"/>
<polygon points="360.39,323.03 363.41,323.03 361.90,320.38" fill="#2ca02c"/>
<polygon points="367.99,319.67 371.01,319.67 369.50,317.03" fill="#2ca02c"/>
<polygon points="375.59,316.31 378.61,316.31 377.10,313.67" fill="#2ca02c"/>
<polygon points="383.19,312.95 386.21,312.95 384.70,310.31" fill="#2ca02c"/>
<polygon points="390.79,309.59 393.81,309.59 392.30,306.95" fill="#2ca02c"/>
<polygon points="398.39,306.23 401.41,306.23 399.90,303.59" fill="#2ca02c"/>
<polygon points="405.99,302.87 409.01,302.87 407.50,300.23" fill="#2ca02c"/>
<polygon points="413.59,299.51 416.61,299.51 415.10,296.87" fill="#2ca02c"/>
<polygon points="421.19,296.16 424.21,296.16 422.70,293.51" fill="#2ca02c"/>
<polygon points="428.79,292.80 431.81,292.80 430.30,290.16" fill="#2ca02c"/>
<polygon points="436.39,289.46 439.41,289.46 437.90,286.81" fill="#2ca02c"/>
<polygon points="443.99,286.12 447.01,286.12 445.50,283.47" fill="#2ca02c"/>
<polygon points="451.59,282.78 454.61,282.78 453.10,280.14" fill="#2ca02c"/>
<polygon points="459.19,279.46 462.21,279.46 460.70,276.81" fill="#2ca02c"/>
<polygon points="466.79,276.14 469.81,276.14 468.30,273.49" fill="#2ca02c"/>
<polygon points="474.39,272.83 477.41,272.83 475.90,270.19" fill="#2ca02c"/>
<polygon points="481.99,269.54 485.01,269.54 483.50,266.89" fill="#2ca02c"/>
<polygon points="489.59,266.26 492.61,266.26 491.10,263.61" fill="#2ca02c"/>
<polygon points="497.19,262.99 500.21,262.99 498.70,260.34" fill="#2ca02c"/>
<polygon points="504.79,259.74 507.81,259.74 506.30,257.09" fill="#2ca02c"/>
<polygon points="512.39,256.50 515.41,256.50 513.90,253.85" fill="#2ca02c"/>
<polygon points="519.99,253.28 523.01,253.28 521.50,250.63" fill="#2ca02c"/>
<polygon points="527.59,250.07 530.61,250.07 529.10,247.43" fill="#2ca02c"/>
<polygon points="535.19,246.89 538.21,246.89 536.70,244.24" fill="#2ca02c"/>
<polyline points="323.90,355.15 331.50,350.42 339.10,345.81 346.70,341.30 354.30,336.90 361.90,332.60 369.50,328.38 377.10,324.25 384.70,320.20 392.30,316.22 399.90,312.31 407.50,308.46 415.10,304.66 422.70,300.91 430.30,297.20 437.90,293.52 445.50,289.88 453.10,286.25 460.70,282.65 468.30,279.05 475.90,275.46 483.50,271.87 491.10,268.27 498.70,264.66 506.30,261.03 513.90,257.37 521.50,253.68 529.10,249.95 536.70,246.17" fill="none" stroke="#d62728" stroke-width="1.1"/>
<polygon points="325.03,353.64 325.03,356.66 322.39,355.15" fill="#d62728"/>
<polygon points="332.63,348.91 332.63,351.93 329.99,350.42" fill="#d62728"/>
<polygon points="340.23,344.29 340.23,347.32 337.59,345.81" fill="#d62728"/>
<polygon points="347.83,339.79 347.83,342.81 345.19,341.30" fill="#d62728"/>
<polygon points="355.43,335.39 355.43,338.41 352.79,336.90" fill="#d62728"/>
<polygon points="363.03,331.08 363.03,334.11 360.39,332.60" fill="#d62728"/>
<polygon points="370.63,326.87 370.63,329.89 367.99,328.38" fill="#d62728"/>
<polygon points="378.23,322.74 378.23,325.76 375.59,324.25" fill="#d62728"/>
<polygon points="385.83,318.69 385.83,321.71 383.19,320.20" fill="#d62728"/>
<polygon points="393.43,314.71 393.43,317.73 390.79,316.22" fill="#d62728"/>
<polygon points="401.03,310.80 401.03,313.82 398.39,312.31" fill="#d62728"/>
<polygon points="408.63,306.94 408.63,309.97 405.99,308.46" fill="#d62728"/>
<polygon points="416.23,303.15 416.23,306.17 413.59,304.66" fill="#d62728"/>
<polygon points="423.83,299.39 423.83,302.42 421.19,300.91" fill="#d62728"/>
<polygon points="431.43,295.68 431.43,298.71 428.79,297.20" fill="#d62728"/>
<polygon points="439.03,292.01 439.03,295.03 436.39,293.52" fill="#d62728"/>
<polygon points="446.63,288.36 446.63,291.39 443.99,289.88" fill="#d62728"/>
<polygon points="454.23,284.74 454.23,287.77 451.59,286.25" fill="#d62728"/>
<polygon points="461.83,281.14 461.83,284.16 459.19,282.65" fill="#d62728"/>
<polygon points="469.43,277.54 469.43,280.57 466.79,279.05" fill="#d62728"/>
<polygon points="477.03,273.95 477.03,276.98 474.39,275.46" fill="#d62728"/>
<polygon points="484.63,270.36 484.63,273.39 481.99,271.87" fill="#d62728"/>
<polygon points="492.23,266.76 492.23,269.79 489.59,268.27" fill="#d62728"/>
<polygon points="499.83,263.15 499.83,266.17 497.19,264.66" fill="#d62728"/>
<polygon points="507.43,259.52 507.43,262.54 504.79,261.03" fill="#d62728"/>
<polygon points="515.03,255.86 515.03,258.88 512.39,257.37" fill="#d62728"/>
<polygon points="522.63,252.17 522.63,255.19 519.99,253.68" fill="#d62728"/>
<polygon points="530.23,248.44 530.23,251.46 527.59,249.95" fill="#d62728"/>
<polygon points="537.83,244.66 537.83,247.68 535.19,246.17" fill="#d62728"/>
<polyline points="323.90,355.04 331.50,348.58 339.10,342.37 346.70,336.40 354.30,330.65 361.90,325.13 369.50,319.81 377.10,314.68 384.70,309.73 392.30,304.94 399.90,300.32 407.50,295.84 415.10,291.48 422.70,287.25 430.30,283.12 437.90,279.09 445.50,275.14 453.10,271.27 460.70,267.44 468.30,263.67 475.90,259.93 483.50,256.21 491.10,252.50 498.70,248.78 506.30,245.05 513.90,241.30 521.50,237.50 529.10,233.65 536.70,229.74" fill="none" stroke="#9467bd" stroke-width="1.1"/>
<polygon points="322.77,353.53 322.77,356.55 325.41,355.04" fill="#9467bd"/>
<polygon points="330.37,347.07 330.37,350.09 333.01,348.58" fill="#9467bd"/>
<polygon points="337.97,340.85 337.97,343.88 340.61,342.37" fill="#9467bd"/>
<polygon points="345.57,334.88 345.57,337.91 348.21,336.40" fill="#9467bd"/>
<polygon points="353.17,329.14 353.17,332.17 355.81,330.65" fill="#9467bd"/>
<polygon points="360.77,323.62 360.77,326.64 363.41,325.13" fill="#9467bd"/>
<polygon points="368.37,318.29 368.37,321.32 371.01,319.81" fill="#9467bd"/>
<polygon points="375.97,313.16 375.97,316.19 378.61,314.68" fill="#9467bd"/>
<polygon points="383.57,308.21 383.57,311.24 386.21,309.73" fill="#9467bd"/>
<polygon points="391.17,303.43 391.17,306.46 393.81,304.94" fill="#9467bd"/>
<polygon points="398.77,298.81 398.77,301.83 401.41,300.32" fill="#9467bd"/>
<polygon points="406.37,294.32 406.37,297.35 409.01,295.84" fill="#9467bd"/>
<polygon points="413.97,289.97 413.97,293.00 416.61,291.48" fill="#9467bd"/>
<polygon points="421.57,285.74 421.57,288.76 424.21,287.25" fill="#9467bd"/>
<polygon points="429.17,281.61 429.17,284.64 431.81,283.12" fill="#9467bd"/>
<polygon points="436.77,277.58 436.77,280.61 439.41,279.09" fill="#9467bd"/>
<polygon points="444.37,273.63 444.37,276.66 447.01,275.14" fill="#9467bd"/>
<polygon points="451.97,269.75 451.97,272.78 454.61,271.27" fill="#9467bd"/>
<polygon points="459.57,265.93 459.57,268.96 462.21,267.44" fill="#9467bd"/>
<polygon points="467.17,262.16 467.17,265.18 469.81,263.67" fill="#9467bd"/>
<polygon points="474.77,258.42 474.77,261.44 477.41,259.93" fill="#9467bd"/>
<polygon points="482.37,254.70 482.37,257.72 485.01,256.21" fill="#9467bd"/>
<polygon points="489.97,250.98 489.97,254.01 492.61,252.50" fill="#9467bd"/>
<polygon points="497.57,247.27 497.57,250.29 500.21,248.78" fill="#9467bd"/>
<polygon points="505.17,243.54 505.17,246.57 507.81,245.05" fill="#9467bd"/>
<polygon points="512.77,239.79 512.77,242.81 515.41,241.30" fill="#9467bd"/>
<polygon points="520.37,235.99 520.37,239.01 523.01,237.50" fill="#9467bd"/>
<polygon points="527.97,232.14 527.97,235.17 530.61,233.65" fill="#9467bd"/>
<polygon points="535.57,228.23 535.57,231.26 538.21,229.74" fill="#9467bd"/>
<polyline points="323.90,354.97 331.50,347.36 339.10,340.02 346.70,332.96 354.30,326.17 361.90,319.63 369.50,313.34 377.10,307.28 384.70,301.44 392.30,295.83 399.90,290.42 407.50,285.21 415.10,280.18 422.70,275.33 430.30,270.65 437.90,266.13 445.50,261.75 453.10,257.51 460.70,253.41 468.30,249.42 475.90,245.54 483.50,241.76 491.10,238.07 498.70,234.45 506.30,230.91 513.90,227.43 521.50,224.00 529.10,220.62 536.70,217.26" fill="none" stroke="#8c564b" stroke-width="1.1"/>
<rect x="322.64" y="353.71" width="2.52" height="2.52" fill="#8c564b"/>
<rect x="330.24" y="346.10" width="2.52" height="2.52" fill="#8c564b"/>
<rect x="337.84" y="338.76" width="2.52" height="2.52" fill="#8c564b"/>
<rect x="345.44" y="331.70" width="2.52" height="2.52" fill="#8c564b"/>
<rect x="353.04" y="324.91" width="2.52" height="2.52" fill="#8c564b"/>
<rect x="360.64" y="318.37" width="2.52" height="2.52" fill="#8c564b"/>
<rect x="368.24" y="312.08" width="2.52" height="2.52" fill="#8c564b"/>
<rect x="375.84" y="306.02" width="2.52" height="2.52" fill="#8c564b"/>
<rect x="383.44" y="300.18" width="2.52" height="2.52" fill="#8c564b"/>
<rect x="391.04" y="294.57" width="2.52" height="2.52" fill="#8c564b"/>
<rect x="398.64" y="289.16" width="2.52" height="2.52" fill="#8c564b"/>
<rect x="406.24" y="283.95" width="2.52" height="2.52" fill="#8c564b"/>
<rect x="413.84" y="278.92" width="2.52" height="2.52" fill="#8c564b"/>
<rect x="421.44" y="274.07" width="2.52" height="2.52" fill="#8c564b"/>
<rect x="429.04" y="269.39" width="2.52" height="2.52" fill="#8c564b"/>
<rect x="436.64" y="264.87" width="2.52" height="2.52" fill="#8c564b"/>
<rect x="444.24" y="260.49" width="2.52" height="2.52" fill="#8c564b"/>
<rect x="451.84" y="256.25" width="2.52" height="2.52" fill="#8c564b"/>
<rect x="459.44" y="252.15" width="2.52" height="2.52" fill="#8c564b"/>
<rect x="467.04" y="248.16" width="2.52" height="2.52" fill="#8c564b"/>
<rect x="474.64" y="244.28" width="2.52" height="2.52" fill="#8c564b"/>
<rect x="482.24" y="240.50" width="2.52" height="2.52" fill="#8c564b"/>
<rect x="489.84" y="236.81" width="2.52" height="2.52" fill="#8c564b"/>
<rect x="497.44" y="233.19" width="2.52" height="2.52" fill="#8c564b"/>
<rect x="505.04" y="229.65" width="2.52" height="2.52" fill="#8c564b"/>
<rect x="512.64" y="226.17" width="2.52" height="2.52" fill="#8c564b"/>
<rect x="520.24" y="222.74" width="2.52" height="2.52" fill="#8c564b"/>
<rect x="527.84" y="219.36" width="2.52" height="2.52" fill="#8c564b"/>
<rect x="535.44" y="216.00" width="2.52" height="2.52" fill="#8c564b"/>
</g>
<rect x="312.5" y="203.4" width="228.0" height="158.6" fill="none" stroke="#8a8a8a" stroke-width="1.1"/>
<line x1="312.50" y1="362.0" x2="312.50" y2="363.80" stroke="#606060" stroke-width="0.7"/>
<text x="312.50" y="371.20" text-anchor="middle" class="tk">0</text>
<line x1="350.50" y1="362.0" x2="350.50" y2="363.80" stroke="#606060" stroke-width="0.7"/>
<text x="350.50" y="371.20" text-anchor="middle" class="tk">10</text>
<line x1="388.50" y1="362.0" x2="388.50" y2="363.80" stroke="#606060" stroke-width="0.7"/>
<text x="388.50" y="371.20" text-anchor="middle" class="tk">20</text>
<line x1="426.50" y1="362.0" x2="426.50" y2="363.80" stroke="#606060" stroke-width="0.7"/>
<text x="426.50" y="371.20" text-anchor="middle" class="tk">30</text>
<line x1="464.50" y1="362.0" x2="464.50" y2="363.80" stroke="#606060" stroke-width="0.7"/>
<text x="464.50" y="371.20" text-anchor="middle" class="tk">40</text>
<line x1="502.50" y1="362.0" x2="502.50" y2="363.80" stroke="#606060" stroke-width="0.7"/>
<text x="502.50" y="371.20" text-anchor="middle" class="tk">50</text>
<line x1="540.50" y1="362.0" x2="540.50" y2="363.80" stroke="#606060" stroke-width="0.7"/>
<text x="540.50" y="371.20" text-anchor="middle" class="tk">60</text>
<line x1="310.70" y1="343.90" x2="312.5" y2="343.90" stroke="#606060" stroke-width="0.7"/>
<text x="309.50" y="347.00" text-anchor="end" class="tk">0.0</text>
<line x1="310.70" y1="321.62" x2="312.5" y2="321.62" stroke="#606060" stroke-width="0.7"/>
<text x="309.50" y="324.72" text-anchor="end" class="tk">0.1</text>
<line x1="310.70" y1="299.34" x2="312.5" y2="299.34" stroke="#606060" stroke-width="0.7"/>
<text x="309.50" y="302.44" text-anchor="end" class="tk">0.2</text>
<line x1="310.70" y1="277.06" x2="312.5" y2="277.06" stroke="#606060" stroke-width="0.7"/>
<text x="309.50" y="280.16" text-anchor="end" class="tk">0.3</text>
<line x1="310.70" y1="254.78" x2="312.5" y2="254.78" stroke="#606060" stroke-width="0.7"/>
<text x="309.50" y="257.88" text-anchor="end" class="tk">0.4</text>
<line x1="310.70" y1="232.50" x2="312.5" y2="232.50" stroke="#606060" stroke-width="0.7"/>
<text x="309.50" y="235.60" text-anchor="end" class="tk">0.5</text>
<line x1="310.70" y1="210.22" x2="312.5" y2="210.22" stroke="#606060" stroke-width="0.7"/>
<text x="309.50" y="213.32" text-anchor="end" class="tk">0.6</text>
<text x="426.5" y="381.5" text-anchor="middle" class="xl" textLength="115" lengthAdjust="spacingAndGlyphs">Distance of two ends (b)</text>
<text transform="translate(293.6,283.2) rotate(-90)" text-anchor="middle" class="xl" textLength="63" lengthAdjust="spacingAndGlyphs">Force (<tspan font-style="italic">k</tspan><tspan font-style="italic" font-size="6.3" dy="1.8">B</tspan><tspan dy="-1.8" font-style="italic">T</tspan>/<tspan font-style="italic">b</tspan>)</text>
<text x="354.8" y="219.2" class="ttl">(d)</text>
<rect x="315.3" y="206.3" width="32.0" height="55.6" rx="1.2" fill="#ffffff" fill-opacity="0.85" stroke="#e0e0e0" stroke-width="0.8"/>
<line x1="317.80" y1="211.2" x2="330.40" y2="211.2" stroke="#1f77b4" stroke-width="1"/>
<circle cx="324.10" cy="211.20" r="1.30" fill="#1f77b4"/>
<text x="335.30" y="213.60" class="lg"><tspan font-style="italic">a</tspan><tspan font-size="5.0" dy="-2.4">3</tspan></text>
<line x1="317.80" y1="220.2" x2="330.40" y2="220.2" stroke="#ff7f0e" stroke-width="1"/>
<polygon points="322.70,219.15 325.50,219.15 324.10,221.60" fill="#ff7f0e"/>
<text x="335.30" y="222.60" class="lg"><tspan font-style="italic">a</tspan><tspan font-size="5.0" dy="-2.4">2</tspan></text>
<line x1="317.80" y1="229.3" x2="330.40" y2="229.3" stroke="#2ca02c" stroke-width="1"/>
<polygon points="322.70,230.35 325.50,230.35 324.10,227.90" fill="#2ca02c"/>
<text x="335.30" y="231.70" class="lg"><tspan font-style="italic">a</tspan></text>
<line x1="317.80" y1="238.3" x2="330.40" y2="238.3" stroke="#d62728" stroke-width="1"/>
<polygon points="325.15,236.90 325.15,239.70 322.70,238.30" fill="#d62728"/>
<text x="335.30" y="240.70" class="lg"><tspan font-style="italic">e</tspan></text>
<line x1="317.80" y1="247.2" x2="330.40" y2="247.2" stroke="#9467bd" stroke-width="1"/>
<polygon points="323.05,245.80 323.05,248.60 325.50,247.20" fill="#9467bd"/>
<text x="335.30" y="249.60" class="lg"><tspan font-style="italic">a</tspan><tspan font-size="5.0" dy="-2.4">−1</tspan></text>
<line x1="317.80" y1="256.1" x2="330.40" y2="256.1" stroke="#8c564b" stroke-width="1"/>
<rect x="322.93" y="254.93" width="2.34" height="2.34" fill="#8c564b"/>
<text x="335.30" y="258.50" class="lg"><tspan font-style="italic">a</tspan><tspan font-size="5.0" dy="-2.4">−2</tspan></text>
</svg>
</body></html>
